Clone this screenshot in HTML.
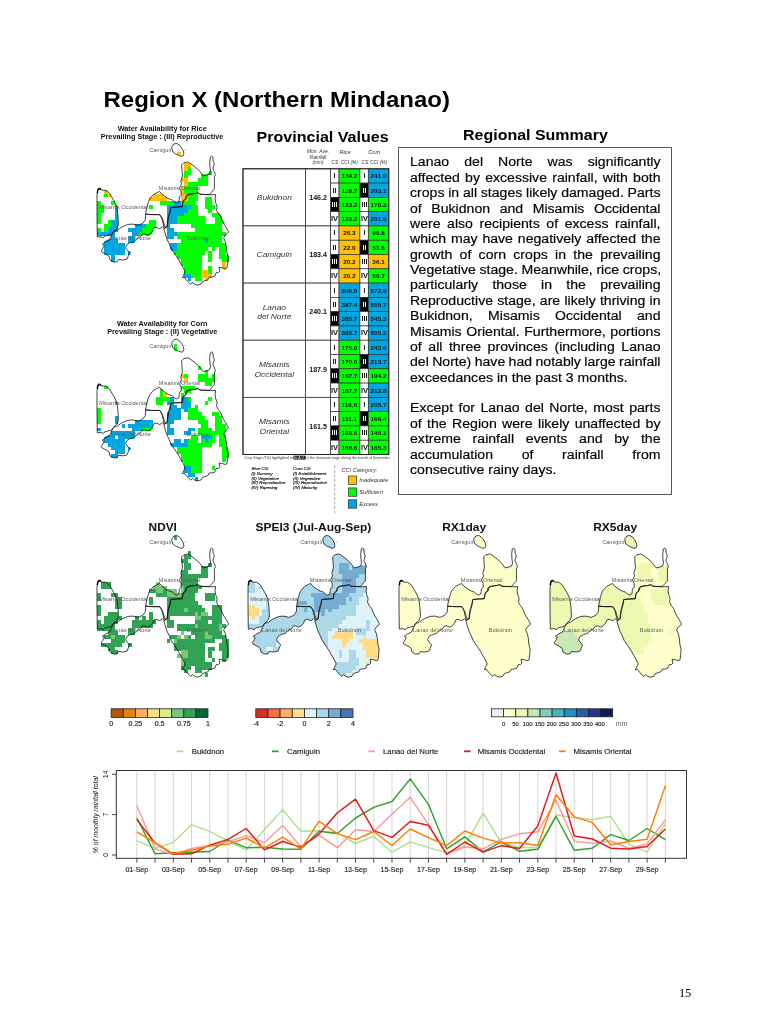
<!DOCTYPE html>
<html lang="en"><head><meta charset="utf-8"><title>Region X (Northern Mindanao)</title>
<style>
html,body{margin:0;padding:0;background:#fff;}
body{width:768px;height:1024px;position:relative;overflow:hidden;font-family:"Liberation Sans", sans-serif;color:#000;}
.t{position:absolute;white-space:nowrap;color:#000;}
p{margin:0;}
.ln{display:block;text-align:justify;text-align-last:justify;white-space:nowrap;height:15.39px;}
.ln.last{text-align:left;text-align-last:left;}
.gap{height:15.39px;}
svg{position:absolute;left:0;top:0;}
svg text{font-family:"Liberation Sans", sans-serif;}
</style></head>
<body>
<svg width="768" height="1024" viewBox="0 0 768 1024">
<text transform="translate(103.50 106.80) scale(1.0607 1)" font-size="22.63" font-weight="bold" fill="#000" >Region X (Northern Mindanao)</text>
<text transform="translate(256.60 141.70) scale(1.0607 1)" font-size="15.14" font-weight="bold" fill="#000" >Provincial Values</text>
<text transform="translate(463.00 140.20) scale(1.0607 1)" font-size="15.08" font-weight="bold" fill="#000" >Regional Summary</text>
<text transform="translate(678.90 997.30) scale(1.0607 1)" font-size="11.69" fill="#000" style="font-family:'Liberation Serif',serif">15</text>
<rect x="330.60" y="168.80" width="8.40" height="14.29" fill="#fff" stroke="#333" stroke-width="0.7"/>
<text transform="translate(334.55 178.34) scale(1.0607 1)" font-size="6.41" text-anchor="middle" font-weight="bold" textLength="1.79" lengthAdjust="spacingAndGlyphs" fill="#111" >I</text>
<rect x="359.80" y="168.80" width="8.50" height="14.29" fill="#fff" stroke="#333" stroke-width="0.7"/>
<text transform="translate(364.45 178.34) scale(1.0607 1)" font-size="6.41" text-anchor="middle" font-weight="bold" textLength="1.79" lengthAdjust="spacingAndGlyphs" fill="#111" >I</text>
<rect x="339.00" y="168.80" width="20.80" height="14.29" fill="#00ff00" stroke="#333" stroke-width="0.7"/>
<text transform="translate(349.40 178.24) scale(1.0607 1)" font-size="6.03" text-anchor="middle" font-weight="bold" fill="#111" >134.2</text>
<rect x="368.30" y="168.80" width="20.50" height="14.29" fill="#00a6e0" stroke="#333" stroke-width="0.7"/>
<text transform="translate(378.55 178.24) scale(1.0607 1)" font-size="6.03" text-anchor="middle" font-weight="bold" fill="#111" >241.0</text>
<rect x="330.60" y="183.09" width="8.40" height="14.29" fill="#fff" stroke="#333" stroke-width="0.7"/>
<text transform="translate(334.55 192.63) scale(1.0607 1)" font-size="6.41" text-anchor="middle" font-weight="bold" textLength="3.68" lengthAdjust="spacingAndGlyphs" fill="#111" >II</text>
<rect x="359.80" y="183.09" width="8.50" height="14.29" fill="#000" stroke="#333" stroke-width="0.7"/>
<text transform="translate(364.45 192.63) scale(1.0607 1)" font-size="6.41" text-anchor="middle" font-weight="bold" textLength="3.68" lengthAdjust="spacingAndGlyphs" fill="#fff" >II</text>
<rect x="339.00" y="183.09" width="20.80" height="14.29" fill="#00ff00" stroke="#333" stroke-width="0.7"/>
<text transform="translate(349.40 192.53) scale(1.0607 1)" font-size="6.03" text-anchor="middle" font-weight="bold" fill="#111" >126.7</text>
<rect x="368.30" y="183.09" width="20.50" height="14.29" fill="#00a6e0" stroke="#333" stroke-width="0.7"/>
<text transform="translate(378.55 192.53) scale(1.0607 1)" font-size="6.03" text-anchor="middle" font-weight="bold" fill="#111" >203.1</text>
<rect x="330.60" y="197.37" width="8.40" height="14.29" fill="#000" stroke="#333" stroke-width="0.7"/>
<text transform="translate(334.55 206.91) scale(1.0607 1)" font-size="6.41" text-anchor="middle" font-weight="bold" textLength="5.56" lengthAdjust="spacingAndGlyphs" fill="#fff" >III</text>
<rect x="359.80" y="197.37" width="8.50" height="14.29" fill="#fff" stroke="#333" stroke-width="0.7"/>
<text transform="translate(364.45 206.91) scale(1.0607 1)" font-size="6.41" text-anchor="middle" font-weight="bold" textLength="5.56" lengthAdjust="spacingAndGlyphs" fill="#111" >III</text>
<rect x="339.00" y="197.37" width="20.80" height="14.29" fill="#00ff00" stroke="#333" stroke-width="0.7"/>
<text transform="translate(349.40 206.81) scale(1.0607 1)" font-size="6.03" text-anchor="middle" font-weight="bold" fill="#111" >123.2</text>
<rect x="368.30" y="197.37" width="20.50" height="14.29" fill="#00ff00" stroke="#333" stroke-width="0.7"/>
<text transform="translate(378.55 206.81) scale(1.0607 1)" font-size="6.03" text-anchor="middle" font-weight="bold" fill="#111" >178.3</text>
<rect x="330.60" y="211.66" width="8.40" height="14.29" fill="#fff" stroke="#333" stroke-width="0.7"/>
<text transform="translate(334.55 221.20) scale(1.0607 1)" font-size="6.41" text-anchor="middle" font-weight="bold" textLength="6.60" lengthAdjust="spacingAndGlyphs" fill="#111" >IV</text>
<rect x="359.80" y="211.66" width="8.50" height="14.29" fill="#fff" stroke="#333" stroke-width="0.7"/>
<text transform="translate(364.45 221.20) scale(1.0607 1)" font-size="6.41" text-anchor="middle" font-weight="bold" textLength="6.60" lengthAdjust="spacingAndGlyphs" fill="#111" >IV</text>
<rect x="339.00" y="211.66" width="20.80" height="14.29" fill="#00ff00" stroke="#333" stroke-width="0.7"/>
<text transform="translate(349.40 221.10) scale(1.0607 1)" font-size="6.03" text-anchor="middle" font-weight="bold" fill="#111" >123.2</text>
<rect x="368.30" y="211.66" width="20.50" height="14.29" fill="#00a6e0" stroke="#333" stroke-width="0.7"/>
<text transform="translate(378.55 221.10) scale(1.0607 1)" font-size="6.03" text-anchor="middle" font-weight="bold" fill="#111" >201.9</text>
<rect x="243.00" y="168.80" width="62.60" height="57.14" fill="#fff" stroke="#333" stroke-width="0.8"/>
<rect x="305.60" y="168.80" width="25.00" height="57.14" fill="#fff" stroke="#333" stroke-width="0.8"/>
<text transform="translate(274.30 200.27) scale(1.0607 1)" font-size="7.92" text-anchor="middle" font-style="italic" fill="#333" >Bukidnon</text>
<text transform="translate(318.10 200.17) scale(1.0607 1)" font-size="6.69" text-anchor="middle" font-weight="bold" fill="#111" >146.2</text>
<rect x="330.60" y="225.94" width="8.40" height="14.29" fill="#fff" stroke="#333" stroke-width="0.7"/>
<text transform="translate(334.55 235.48) scale(1.0607 1)" font-size="6.41" text-anchor="middle" font-weight="bold" textLength="1.79" lengthAdjust="spacingAndGlyphs" fill="#111" >I</text>
<rect x="359.80" y="225.94" width="8.50" height="14.29" fill="#fff" stroke="#333" stroke-width="0.7"/>
<text transform="translate(364.45 235.48) scale(1.0607 1)" font-size="6.41" text-anchor="middle" font-weight="bold" textLength="1.79" lengthAdjust="spacingAndGlyphs" fill="#111" >I</text>
<rect x="339.00" y="225.94" width="20.80" height="14.29" fill="#ffc000" stroke="#333" stroke-width="0.7"/>
<text transform="translate(349.40 235.38) scale(1.0607 1)" font-size="6.03" text-anchor="middle" font-weight="bold" fill="#111" >26.3</text>
<rect x="368.30" y="225.94" width="20.50" height="14.29" fill="#00ff00" stroke="#333" stroke-width="0.7"/>
<text transform="translate(378.55 235.38) scale(1.0607 1)" font-size="6.03" text-anchor="middle" font-weight="bold" fill="#111" >90.8</text>
<rect x="330.60" y="240.22" width="8.40" height="14.29" fill="#fff" stroke="#333" stroke-width="0.7"/>
<text transform="translate(334.55 249.77) scale(1.0607 1)" font-size="6.41" text-anchor="middle" font-weight="bold" textLength="3.68" lengthAdjust="spacingAndGlyphs" fill="#111" >II</text>
<rect x="359.80" y="240.22" width="8.50" height="14.29" fill="#000" stroke="#333" stroke-width="0.7"/>
<text transform="translate(364.45 249.77) scale(1.0607 1)" font-size="6.41" text-anchor="middle" font-weight="bold" textLength="3.68" lengthAdjust="spacingAndGlyphs" fill="#fff" >II</text>
<rect x="339.00" y="240.22" width="20.80" height="14.29" fill="#ffc000" stroke="#333" stroke-width="0.7"/>
<text transform="translate(349.40 249.67) scale(1.0607 1)" font-size="6.03" text-anchor="middle" font-weight="bold" fill="#111" >22.0</text>
<rect x="368.30" y="240.22" width="20.50" height="14.29" fill="#00ff00" stroke="#333" stroke-width="0.7"/>
<text transform="translate(378.55 249.67) scale(1.0607 1)" font-size="6.03" text-anchor="middle" font-weight="bold" fill="#111" >51.6</text>
<rect x="330.60" y="254.51" width="8.40" height="14.29" fill="#000" stroke="#333" stroke-width="0.7"/>
<text transform="translate(334.55 264.05) scale(1.0607 1)" font-size="6.41" text-anchor="middle" font-weight="bold" textLength="5.56" lengthAdjust="spacingAndGlyphs" fill="#fff" >III</text>
<rect x="359.80" y="254.51" width="8.50" height="14.29" fill="#fff" stroke="#333" stroke-width="0.7"/>
<text transform="translate(364.45 264.05) scale(1.0607 1)" font-size="6.41" text-anchor="middle" font-weight="bold" textLength="5.56" lengthAdjust="spacingAndGlyphs" fill="#111" >III</text>
<rect x="339.00" y="254.51" width="20.80" height="14.29" fill="#ffc000" stroke="#333" stroke-width="0.7"/>
<text transform="translate(349.40 263.95) scale(1.0607 1)" font-size="6.03" text-anchor="middle" font-weight="bold" fill="#111" >20.2</text>
<rect x="368.30" y="254.51" width="20.50" height="14.29" fill="#ffc000" stroke="#333" stroke-width="0.7"/>
<text transform="translate(378.55 263.95) scale(1.0607 1)" font-size="6.03" text-anchor="middle" font-weight="bold" fill="#111" >36.1</text>
<rect x="330.60" y="268.80" width="8.40" height="14.29" fill="#fff" stroke="#333" stroke-width="0.7"/>
<text transform="translate(334.55 278.34) scale(1.0607 1)" font-size="6.41" text-anchor="middle" font-weight="bold" textLength="6.60" lengthAdjust="spacingAndGlyphs" fill="#111" >IV</text>
<rect x="359.80" y="268.80" width="8.50" height="14.29" fill="#fff" stroke="#333" stroke-width="0.7"/>
<text transform="translate(364.45 278.34) scale(1.0607 1)" font-size="6.41" text-anchor="middle" font-weight="bold" textLength="6.60" lengthAdjust="spacingAndGlyphs" fill="#111" >IV</text>
<rect x="339.00" y="268.80" width="20.80" height="14.29" fill="#ffc000" stroke="#333" stroke-width="0.7"/>
<text transform="translate(349.40 278.24) scale(1.0607 1)" font-size="6.03" text-anchor="middle" font-weight="bold" fill="#111" >20.2</text>
<rect x="368.30" y="268.80" width="20.50" height="14.29" fill="#00ff00" stroke="#333" stroke-width="0.7"/>
<text transform="translate(378.55 278.24) scale(1.0607 1)" font-size="6.03" text-anchor="middle" font-weight="bold" fill="#111" >50.7</text>
<rect x="243.00" y="225.94" width="62.60" height="57.14" fill="#fff" stroke="#333" stroke-width="0.8"/>
<rect x="305.60" y="225.94" width="25.00" height="57.14" fill="#fff" stroke="#333" stroke-width="0.8"/>
<text transform="translate(274.30 257.41) scale(1.0607 1)" font-size="7.92" text-anchor="middle" font-style="italic" fill="#333" >Camiguin</text>
<text transform="translate(318.10 257.31) scale(1.0607 1)" font-size="6.69" text-anchor="middle" font-weight="bold" fill="#111" >183.4</text>
<rect x="330.60" y="283.08" width="8.40" height="14.29" fill="#fff" stroke="#333" stroke-width="0.7"/>
<text transform="translate(334.55 292.62) scale(1.0607 1)" font-size="6.41" text-anchor="middle" font-weight="bold" textLength="1.79" lengthAdjust="spacingAndGlyphs" fill="#111" >I</text>
<rect x="359.80" y="283.08" width="8.50" height="14.29" fill="#fff" stroke="#333" stroke-width="0.7"/>
<text transform="translate(364.45 292.62) scale(1.0607 1)" font-size="6.41" text-anchor="middle" font-weight="bold" textLength="1.79" lengthAdjust="spacingAndGlyphs" fill="#111" >I</text>
<rect x="339.00" y="283.08" width="20.80" height="14.29" fill="#00a6e0" stroke="#333" stroke-width="0.7"/>
<text transform="translate(349.40 292.52) scale(1.0607 1)" font-size="6.03" text-anchor="middle" font-weight="bold" fill="#111" >390.9</text>
<rect x="368.30" y="283.08" width="20.50" height="14.29" fill="#00a6e0" stroke="#333" stroke-width="0.7"/>
<text transform="translate(378.55 292.52) scale(1.0607 1)" font-size="6.03" text-anchor="middle" font-weight="bold" fill="#111" >572.9</text>
<rect x="330.60" y="297.37" width="8.40" height="14.29" fill="#fff" stroke="#333" stroke-width="0.7"/>
<text transform="translate(334.55 306.91) scale(1.0607 1)" font-size="6.41" text-anchor="middle" font-weight="bold" textLength="3.68" lengthAdjust="spacingAndGlyphs" fill="#111" >II</text>
<rect x="359.80" y="297.37" width="8.50" height="14.29" fill="#000" stroke="#333" stroke-width="0.7"/>
<text transform="translate(364.45 306.91) scale(1.0607 1)" font-size="6.41" text-anchor="middle" font-weight="bold" textLength="3.68" lengthAdjust="spacingAndGlyphs" fill="#fff" >II</text>
<rect x="339.00" y="297.37" width="20.80" height="14.29" fill="#00a6e0" stroke="#333" stroke-width="0.7"/>
<text transform="translate(349.40 306.81) scale(1.0607 1)" font-size="6.03" text-anchor="middle" font-weight="bold" fill="#111" >387.4</text>
<rect x="368.30" y="297.37" width="20.50" height="14.29" fill="#00a6e0" stroke="#333" stroke-width="0.7"/>
<text transform="translate(378.55 306.81) scale(1.0607 1)" font-size="6.03" text-anchor="middle" font-weight="bold" fill="#111" >555.7</text>
<rect x="330.60" y="311.65" width="8.40" height="14.29" fill="#000" stroke="#333" stroke-width="0.7"/>
<text transform="translate(334.55 321.19) scale(1.0607 1)" font-size="6.41" text-anchor="middle" font-weight="bold" textLength="5.56" lengthAdjust="spacingAndGlyphs" fill="#fff" >III</text>
<rect x="359.80" y="311.65" width="8.50" height="14.29" fill="#fff" stroke="#333" stroke-width="0.7"/>
<text transform="translate(364.45 321.19) scale(1.0607 1)" font-size="6.41" text-anchor="middle" font-weight="bold" textLength="5.56" lengthAdjust="spacingAndGlyphs" fill="#111" >III</text>
<rect x="339.00" y="311.65" width="20.80" height="14.29" fill="#00a6e0" stroke="#333" stroke-width="0.7"/>
<text transform="translate(349.40 321.09) scale(1.0607 1)" font-size="6.03" text-anchor="middle" font-weight="bold" fill="#111" >385.7</text>
<rect x="368.30" y="311.65" width="20.50" height="14.29" fill="#00a6e0" stroke="#333" stroke-width="0.7"/>
<text transform="translate(378.55 321.09) scale(1.0607 1)" font-size="6.03" text-anchor="middle" font-weight="bold" fill="#111" >545.3</text>
<rect x="330.60" y="325.94" width="8.40" height="14.29" fill="#fff" stroke="#333" stroke-width="0.7"/>
<text transform="translate(334.55 335.48) scale(1.0607 1)" font-size="6.41" text-anchor="middle" font-weight="bold" textLength="6.60" lengthAdjust="spacingAndGlyphs" fill="#111" >IV</text>
<rect x="359.80" y="325.94" width="8.50" height="14.29" fill="#fff" stroke="#333" stroke-width="0.7"/>
<text transform="translate(364.45 335.48) scale(1.0607 1)" font-size="6.41" text-anchor="middle" font-weight="bold" textLength="6.60" lengthAdjust="spacingAndGlyphs" fill="#111" >IV</text>
<rect x="339.00" y="325.94" width="20.80" height="14.29" fill="#00a6e0" stroke="#333" stroke-width="0.7"/>
<text transform="translate(349.40 335.38) scale(1.0607 1)" font-size="6.03" text-anchor="middle" font-weight="bold" fill="#111" >385.7</text>
<rect x="368.30" y="325.94" width="20.50" height="14.29" fill="#00a6e0" stroke="#333" stroke-width="0.7"/>
<text transform="translate(378.55 335.38) scale(1.0607 1)" font-size="6.03" text-anchor="middle" font-weight="bold" fill="#111" >555.2</text>
<rect x="243.00" y="283.08" width="62.60" height="57.14" fill="#fff" stroke="#333" stroke-width="0.8"/>
<rect x="305.60" y="283.08" width="25.00" height="57.14" fill="#fff" stroke="#333" stroke-width="0.8"/>
<text transform="translate(274.30 309.65) scale(1.0607 1)" font-size="7.92" text-anchor="middle" font-style="italic" fill="#333" >Lanao</text>
<text transform="translate(274.30 319.45) scale(1.0607 1)" font-size="7.92" text-anchor="middle" font-style="italic" fill="#333" >del Norte</text>
<text transform="translate(318.10 314.45) scale(1.0607 1)" font-size="6.69" text-anchor="middle" font-weight="bold" fill="#111" >240.1</text>
<rect x="330.60" y="340.22" width="8.40" height="14.29" fill="#fff" stroke="#333" stroke-width="0.7"/>
<text transform="translate(334.55 349.76) scale(1.0607 1)" font-size="6.41" text-anchor="middle" font-weight="bold" textLength="1.79" lengthAdjust="spacingAndGlyphs" fill="#111" >I</text>
<rect x="359.80" y="340.22" width="8.50" height="14.29" fill="#fff" stroke="#333" stroke-width="0.7"/>
<text transform="translate(364.45 349.76) scale(1.0607 1)" font-size="6.41" text-anchor="middle" font-weight="bold" textLength="1.79" lengthAdjust="spacingAndGlyphs" fill="#111" >I</text>
<rect x="339.00" y="340.22" width="20.80" height="14.29" fill="#00ff00" stroke="#333" stroke-width="0.7"/>
<text transform="translate(349.40 349.66) scale(1.0607 1)" font-size="6.03" text-anchor="middle" font-weight="bold" fill="#111" >175.0</text>
<rect x="368.30" y="340.22" width="20.50" height="14.29" fill="#00a6e0" stroke="#333" stroke-width="0.7"/>
<text transform="translate(378.55 349.66) scale(1.0607 1)" font-size="6.03" text-anchor="middle" font-weight="bold" fill="#111" >243.6</text>
<rect x="330.60" y="354.51" width="8.40" height="14.29" fill="#fff" stroke="#333" stroke-width="0.7"/>
<text transform="translate(334.55 364.05) scale(1.0607 1)" font-size="6.41" text-anchor="middle" font-weight="bold" textLength="3.68" lengthAdjust="spacingAndGlyphs" fill="#111" >II</text>
<rect x="359.80" y="354.51" width="8.50" height="14.29" fill="#000" stroke="#333" stroke-width="0.7"/>
<text transform="translate(364.45 364.05) scale(1.0607 1)" font-size="6.41" text-anchor="middle" font-weight="bold" textLength="3.68" lengthAdjust="spacingAndGlyphs" fill="#fff" >II</text>
<rect x="339.00" y="354.51" width="20.80" height="14.29" fill="#00ff00" stroke="#333" stroke-width="0.7"/>
<text transform="translate(349.40 363.95) scale(1.0607 1)" font-size="6.03" text-anchor="middle" font-weight="bold" fill="#111" >170.0</text>
<rect x="368.30" y="354.51" width="20.50" height="14.29" fill="#00a6e0" stroke="#333" stroke-width="0.7"/>
<text transform="translate(378.55 363.95) scale(1.0607 1)" font-size="6.03" text-anchor="middle" font-weight="bold" fill="#111" >213.7</text>
<rect x="330.60" y="368.79" width="8.40" height="14.29" fill="#000" stroke="#333" stroke-width="0.7"/>
<text transform="translate(334.55 378.33) scale(1.0607 1)" font-size="6.41" text-anchor="middle" font-weight="bold" textLength="5.56" lengthAdjust="spacingAndGlyphs" fill="#fff" >III</text>
<rect x="359.80" y="368.79" width="8.50" height="14.29" fill="#fff" stroke="#333" stroke-width="0.7"/>
<text transform="translate(364.45 378.33) scale(1.0607 1)" font-size="6.41" text-anchor="middle" font-weight="bold" textLength="5.56" lengthAdjust="spacingAndGlyphs" fill="#111" >III</text>
<rect x="339.00" y="368.79" width="20.80" height="14.29" fill="#00ff00" stroke="#333" stroke-width="0.7"/>
<text transform="translate(349.40 378.23) scale(1.0607 1)" font-size="6.03" text-anchor="middle" font-weight="bold" fill="#111" >167.7</text>
<rect x="368.30" y="368.79" width="20.50" height="14.29" fill="#00ff00" stroke="#333" stroke-width="0.7"/>
<text transform="translate(378.55 378.23) scale(1.0607 1)" font-size="6.03" text-anchor="middle" font-weight="bold" fill="#111" >194.2</text>
<rect x="330.60" y="383.08" width="8.40" height="14.29" fill="#fff" stroke="#333" stroke-width="0.7"/>
<text transform="translate(334.55 392.62) scale(1.0607 1)" font-size="6.41" text-anchor="middle" font-weight="bold" textLength="6.60" lengthAdjust="spacingAndGlyphs" fill="#111" >IV</text>
<rect x="359.80" y="383.08" width="8.50" height="14.29" fill="#fff" stroke="#333" stroke-width="0.7"/>
<text transform="translate(364.45 392.62) scale(1.0607 1)" font-size="6.41" text-anchor="middle" font-weight="bold" textLength="6.60" lengthAdjust="spacingAndGlyphs" fill="#111" >IV</text>
<rect x="339.00" y="383.08" width="20.80" height="14.29" fill="#00ff00" stroke="#333" stroke-width="0.7"/>
<text transform="translate(349.40 392.52) scale(1.0607 1)" font-size="6.03" text-anchor="middle" font-weight="bold" fill="#111" >167.7</text>
<rect x="368.30" y="383.08" width="20.50" height="14.29" fill="#00a6e0" stroke="#333" stroke-width="0.7"/>
<text transform="translate(378.55 392.52) scale(1.0607 1)" font-size="6.03" text-anchor="middle" font-weight="bold" fill="#111" >212.8</text>
<rect x="243.00" y="340.22" width="62.60" height="57.14" fill="#fff" stroke="#333" stroke-width="0.8"/>
<rect x="305.60" y="340.22" width="25.00" height="57.14" fill="#fff" stroke="#333" stroke-width="0.8"/>
<text transform="translate(274.30 366.79) scale(1.0607 1)" font-size="7.92" text-anchor="middle" font-style="italic" fill="#333" >Misamis</text>
<text transform="translate(274.30 376.59) scale(1.0607 1)" font-size="7.92" text-anchor="middle" font-style="italic" fill="#333" >Occidental</text>
<text transform="translate(318.10 371.59) scale(1.0607 1)" font-size="6.69" text-anchor="middle" font-weight="bold" fill="#111" >187.9</text>
<rect x="330.60" y="397.36" width="8.40" height="14.29" fill="#fff" stroke="#333" stroke-width="0.7"/>
<text transform="translate(334.55 406.90) scale(1.0607 1)" font-size="6.41" text-anchor="middle" font-weight="bold" textLength="1.79" lengthAdjust="spacingAndGlyphs" fill="#111" >I</text>
<rect x="359.80" y="397.36" width="8.50" height="14.29" fill="#fff" stroke="#333" stroke-width="0.7"/>
<text transform="translate(364.45 406.90) scale(1.0607 1)" font-size="6.41" text-anchor="middle" font-weight="bold" textLength="1.79" lengthAdjust="spacingAndGlyphs" fill="#111" >I</text>
<rect x="339.00" y="397.36" width="20.80" height="14.29" fill="#00ff00" stroke="#333" stroke-width="0.7"/>
<text transform="translate(349.40 406.80) scale(1.0607 1)" font-size="6.03" text-anchor="middle" font-weight="bold" fill="#111" >116.6</text>
<rect x="368.30" y="397.36" width="20.50" height="14.29" fill="#00a6e0" stroke="#333" stroke-width="0.7"/>
<text transform="translate(378.55 406.80) scale(1.0607 1)" font-size="6.03" text-anchor="middle" font-weight="bold" fill="#111" >205.7</text>
<rect x="330.60" y="411.65" width="8.40" height="14.29" fill="#fff" stroke="#333" stroke-width="0.7"/>
<text transform="translate(334.55 421.19) scale(1.0607 1)" font-size="6.41" text-anchor="middle" font-weight="bold" textLength="3.68" lengthAdjust="spacingAndGlyphs" fill="#111" >II</text>
<rect x="359.80" y="411.65" width="8.50" height="14.29" fill="#000" stroke="#333" stroke-width="0.7"/>
<text transform="translate(364.45 421.19) scale(1.0607 1)" font-size="6.41" text-anchor="middle" font-weight="bold" textLength="3.68" lengthAdjust="spacingAndGlyphs" fill="#fff" >II</text>
<rect x="339.00" y="411.65" width="20.80" height="14.29" fill="#00ff00" stroke="#333" stroke-width="0.7"/>
<text transform="translate(349.40 421.09) scale(1.0607 1)" font-size="6.03" text-anchor="middle" font-weight="bold" fill="#111" >111.1</text>
<rect x="368.30" y="411.65" width="20.50" height="14.29" fill="#00ff00" stroke="#333" stroke-width="0.7"/>
<text transform="translate(378.55 421.09) scale(1.0607 1)" font-size="6.03" text-anchor="middle" font-weight="bold" fill="#111" >166.4</text>
<rect x="330.60" y="425.93" width="8.40" height="14.29" fill="#000" stroke="#333" stroke-width="0.7"/>
<text transform="translate(334.55 435.47) scale(1.0607 1)" font-size="6.41" text-anchor="middle" font-weight="bold" textLength="5.56" lengthAdjust="spacingAndGlyphs" fill="#fff" >III</text>
<rect x="359.80" y="425.93" width="8.50" height="14.29" fill="#fff" stroke="#333" stroke-width="0.7"/>
<text transform="translate(364.45 435.47) scale(1.0607 1)" font-size="6.41" text-anchor="middle" font-weight="bold" textLength="5.56" lengthAdjust="spacingAndGlyphs" fill="#111" >III</text>
<rect x="339.00" y="425.93" width="20.80" height="14.29" fill="#00ff00" stroke="#333" stroke-width="0.7"/>
<text transform="translate(349.40 435.37) scale(1.0607 1)" font-size="6.03" text-anchor="middle" font-weight="bold" fill="#111" >108.6</text>
<rect x="368.30" y="425.93" width="20.50" height="14.29" fill="#00ff00" stroke="#333" stroke-width="0.7"/>
<text transform="translate(378.55 435.37) scale(1.0607 1)" font-size="6.03" text-anchor="middle" font-weight="bold" fill="#111" >145.1</text>
<rect x="330.60" y="440.22" width="8.40" height="14.29" fill="#fff" stroke="#333" stroke-width="0.7"/>
<text transform="translate(334.55 449.76) scale(1.0607 1)" font-size="6.41" text-anchor="middle" font-weight="bold" textLength="6.60" lengthAdjust="spacingAndGlyphs" fill="#111" >IV</text>
<rect x="359.80" y="440.22" width="8.50" height="14.29" fill="#fff" stroke="#333" stroke-width="0.7"/>
<text transform="translate(364.45 449.76) scale(1.0607 1)" font-size="6.41" text-anchor="middle" font-weight="bold" textLength="6.60" lengthAdjust="spacingAndGlyphs" fill="#111" >IV</text>
<rect x="339.00" y="440.22" width="20.80" height="14.29" fill="#00ff00" stroke="#333" stroke-width="0.7"/>
<text transform="translate(349.40 449.66) scale(1.0607 1)" font-size="6.03" text-anchor="middle" font-weight="bold" fill="#111" >108.6</text>
<rect x="368.30" y="440.22" width="20.50" height="14.29" fill="#00ff00" stroke="#333" stroke-width="0.7"/>
<text transform="translate(378.55 449.66) scale(1.0607 1)" font-size="6.03" text-anchor="middle" font-weight="bold" fill="#111" >165.3</text>
<rect x="243.00" y="397.36" width="62.60" height="57.14" fill="#fff" stroke="#333" stroke-width="0.8"/>
<rect x="305.60" y="397.36" width="25.00" height="57.14" fill="#fff" stroke="#333" stroke-width="0.8"/>
<text transform="translate(274.30 423.93) scale(1.0607 1)" font-size="7.92" text-anchor="middle" font-style="italic" fill="#333" >Misamis</text>
<text transform="translate(274.30 433.73) scale(1.0607 1)" font-size="7.92" text-anchor="middle" font-style="italic" fill="#333" >Oriental</text>
<text transform="translate(318.10 428.73) scale(1.0607 1)" font-size="6.69" text-anchor="middle" font-weight="bold" fill="#111" >161.5</text>
<rect x="243.00" y="168.80" width="145.80" height="285.70" fill="none" stroke="#222" stroke-width="1"/>
<text transform="translate(318.00 153.30) scale(1.0607 1)" font-size="4.71" text-anchor="middle" font-style="italic" fill="#333" >Mon. Ave.</text>
<text transform="translate(318.00 158.60) scale(1.0607 1)" font-size="4.62" text-anchor="middle" font-style="italic" fill="#333" >Rainfall</text>
<text transform="translate(318.00 163.90) scale(1.0607 1)" font-size="4.53" text-anchor="middle" font-style="italic" fill="#333" >(mm)</text>
<text transform="translate(345.00 153.60) scale(1.0607 1)" font-size="5.28" text-anchor="middle" font-style="italic" fill="#333" >Rice</text>
<text transform="translate(374.30 153.60) scale(1.0607 1)" font-size="5.28" text-anchor="middle" font-style="italic" fill="#333" >Corn</text>
<text transform="translate(334.80 163.90) scale(1.0607 1)" font-size="4.53" text-anchor="middle" font-style="italic" fill="#333" >CS</text>
<text transform="translate(349.40 163.90) scale(1.0607 1)" font-size="4.53" text-anchor="middle" font-style="italic" fill="#333" >CCI (%)</text>
<text transform="translate(364.80 163.90) scale(1.0607 1)" font-size="4.53" text-anchor="middle" font-style="italic" fill="#333" >CS</text>
<text transform="translate(378.60 163.90) scale(1.0607 1)" font-size="4.53" text-anchor="middle" font-style="italic" fill="#333" >CCI (%)</text>
<rect x="293.5" y="455.7" width="12.1" height="3.8" fill="#000"/>
<text transform="translate(244.60 458.90) scale(1.0607 1)" font-size="3.35" font-style="italic" textLength="45.44" lengthAdjust="spacingAndGlyphs" fill="#333" >Crop Stage (CS) highlighted in</text>
<text transform="translate(299.50 458.80) scale(1.0607 1)" font-size="3.02" text-anchor="middle" font-style="italic" fill="#fff" >BLACK</text>
<text transform="translate(306.60 458.90) scale(1.0607 1)" font-size="3.35" font-style="italic" textLength="78.63" lengthAdjust="spacingAndGlyphs" fill="#333" >is the dominant stage during the month of September</text>
<text transform="translate(251.40 469.80) scale(1.0607 1)" font-size="4.20" font-style="italic" fill="#111" stroke="#111" stroke-width="0.14" >Rice CS:</text>
<text transform="translate(251.40 474.68) scale(1.0607 1)" font-size="4.20" font-style="italic" fill="#111" stroke="#111" stroke-width="0.14" >(I) Nursery</text>
<text transform="translate(251.40 479.56) scale(1.0607 1)" font-size="4.20" font-style="italic" fill="#111" stroke="#111" stroke-width="0.14" >(II) Vegetative</text>
<text transform="translate(251.40 484.44) scale(1.0607 1)" font-size="4.20" font-style="italic" fill="#111" stroke="#111" stroke-width="0.14" >(III) Reproductive</text>
<text transform="translate(251.40 489.32) scale(1.0607 1)" font-size="4.20" font-style="italic" fill="#111" stroke="#111" stroke-width="0.14" >(IV) Ripening</text>
<text transform="translate(293.00 469.80) scale(1.0607 1)" font-size="4.20" font-style="italic" fill="#111" stroke="#111" stroke-width="0.14" >Corn CS:</text>
<text transform="translate(293.00 474.68) scale(1.0607 1)" font-size="4.20" font-style="italic" fill="#111" stroke="#111" stroke-width="0.14" >(I) Establishment</text>
<text transform="translate(293.00 479.56) scale(1.0607 1)" font-size="4.20" font-style="italic" fill="#111" stroke="#111" stroke-width="0.14" >(II) Vegetative</text>
<text transform="translate(293.00 484.44) scale(1.0607 1)" font-size="4.20" font-style="italic" fill="#111" stroke="#111" stroke-width="0.14" >(III) Reproductive</text>
<text transform="translate(293.00 489.32) scale(1.0607 1)" font-size="4.20" font-style="italic" fill="#111" stroke="#111" stroke-width="0.14" >(IV) Maturity</text>
<line x1="334.8" y1="465.5" x2="334.8" y2="513" stroke="#777" stroke-width="0.6" stroke-dasharray="3 1.5"/>
<text transform="translate(341.40 471.80) scale(1.0607 1)" font-size="5.37" font-style="italic" fill="#444" >CCI Category:</text>
<rect x="348.3" y="476.00" width="8.4" height="8.4" fill="#ffc000" stroke="#333" stroke-width="0.7"/>
<text transform="translate(359.20 482.20) scale(1.0607 1)" font-size="5.47" font-style="italic" fill="#333" >Inadequate</text>
<rect x="348.3" y="487.90" width="8.4" height="8.4" fill="#00ff00" stroke="#333" stroke-width="0.7"/>
<text transform="translate(359.20 494.10) scale(1.0607 1)" font-size="5.47" font-style="italic" fill="#333" >Sufficient</text>
<rect x="348.3" y="499.80" width="8.4" height="8.4" fill="#00a6e0" stroke="#333" stroke-width="0.7"/>
<text transform="translate(359.20 506.00) scale(1.0607 1)" font-size="5.47" font-style="italic" fill="#333" >Excess</text>
<text transform="translate(162.20 130.78) scale(1.0607 1)" font-size="6.88" text-anchor="middle" font-weight="bold" fill="#111" >Water Availability for Rice</text>
<text transform="translate(162.00 139.18) scale(1.0607 1)" font-size="6.88" text-anchor="middle" font-weight="bold" fill="#111" >Prevailing Stage : (III) Reproductive</text>
<text transform="translate(162.20 326.18) scale(1.0607 1)" font-size="6.88" text-anchor="middle" font-weight="bold" fill="#111" >Water Availability for Corn</text>
<text transform="translate(162.20 334.38) scale(1.0607 1)" font-size="6.88" text-anchor="middle" font-weight="bold" fill="#111" >Prevailing Stage : (II) Vegetative</text>
<text transform="translate(162.70 530.80) scale(1.0607 1)" font-size="11.12" text-anchor="middle" font-weight="bold" fill="#111" >NDVI</text>
<text transform="translate(313.40 530.87) scale(1.0607 1)" font-size="11.31" text-anchor="middle" font-weight="bold" fill="#111" >SPEI3 (Jul-Aug-Sep)</text>
<text transform="translate(464.20 530.87) scale(1.0607 1)" font-size="11.31" text-anchor="middle" font-weight="bold" fill="#111" >RX1day</text>
<text transform="translate(615.20 530.87) scale(1.0607 1)" font-size="11.31" text-anchor="middle" font-weight="bold" fill="#111" >RX5day</text>
<defs>
<clipPath id="land"><path d="M399.3 583.7L399.8 581.2L401.0 580.1L402.2 580.2L403.7 582.2L407.6 582.2L411.5 585.1L414.0 589.5L416.9 594.4L418.9 599.3L419.8 606.1L420.3 612.0L420.3 616.9L418.9 620.3L415.4 623.7L413.0 626.6L410.1 627.1L406.6 628.1L405.2 629.8L403.2 628.6L399.3 629.1L399.0 609.1L399.0 587.6ZM415.4 623.7L419.3 622.2L424.2 618.8L430.1 616.4L435.0 616.1L439.9 617.4L444.7 615.4L447.2 612.0L447.7 608.1L447.5 606.1L452.6 606.6L461.8 606.6L463.8 610.0L465.2 615.9L466.2 619.8L467.0 620.8L464.3 618.8L461.8 620.8L458.4 619.3L456.0 619.8L454.5 623.2L452.1 626.1L449.6 627.1L446.7 625.9L444.2 626.1L442.8 628.6L437.9 631.5L436.4 633.5L432.5 634.5L429.1 636.4L427.6 639.8L429.6 642.8L431.6 644.7L430.6 647.1L429.1 651.0L425.2 652.0L420.3 651.5L418.9 654.0L415.4 654.0L412.0 652.0L411.0 648.1L408.1 646.2L404.2 644.2L403.2 642.8L405.2 639.8L406.2 637.4L404.2 636.4L407.6 634.0L411.5 632.0L413.0 628.6ZM473.9 538.8L475.9 536.0L478.8 535.4L481.7 537.3L483.7 539.8L485.2 542.7L485.9 545.6L485.0 547.8L483.2 548.4L480.8 547.4L477.8 546.1L475.2 544.2L473.9 541.2ZM483.7 556.9L485.6 554.9L490.0 553.9L493.0 555.9L496.9 558.8L500.8 562.2L503.2 565.2L505.2 567.9L508.6 567.1L511.5 566.1L512.5 563.2L512.0 559.3L511.7 554.4L512.3 549.0L513.7 548.1L514.9 549.0L515.2 553.4L516.4 555.9L515.2 559.3L514.9 561.2L516.4 563.7L517.4 566.6L516.4 569.1L516.4 574.0L516.4 580.8L514.9 582.7L513.0 584.5L511.7 586.4L504.7 586.4L501.8 585.9L499.8 584.7L496.9 585.5L492.0 585.9L489.1 586.8L487.6 588.6L487.6 591.0L485.2 592.5L484.7 594.9L484.2 598.9L479.3 599.1L472.9 599.5L472.0 603.2L470.5 608.1L469.5 613.0L469.0 617.9L468.1 619.4L467.1 618.9L466.1 615.9L464.6 611.0L461.7 606.7L455.9 606.7L447.6 606.2L447.9 604.2L449.0 598.4L450.0 595.4L450.5 593.5L451.9 590.5L455.4 586.6L459.3 584.5L461.7 583.5L463.7 586.1L467.1 588.6L470.0 590.5L474.4 592.0L476.4 594.0L478.3 595.2L480.8 594.0L481.2 591.5L481.4 589.1L483.2 587.1L483.2 583.7L481.7 580.8L482.2 578.3L483.7 575.9L482.7 573.5L483.7 571.0L484.4 567.1L484.0 562.2ZM517.6 586.6L517.1 590.7L517.6 594.6L519.1 598.1L518.6 602.5L520.5 605.9L522.5 608.3L524.0 612.2L525.9 616.1L527.9 619.1L529.8 622.5L530.5 624.4L527.9 626.4L525.6 629.8L527.4 633.7L528.4 638.6L528.9 644.5L530.1 649.3L529.8 654.2L528.9 660.1L527.4 660.6L523.5 659.6L521.0 659.3L522.0 663.0L520.5 664.5L518.1 664.8L516.6 668.4L513.7 669.1L511.3 669.1L509.8 671.8L506.9 672.8L504.4 673.5L503.0 676.2L499.1 677.2L496.6 676.2L494.7 674.7L492.7 676.2L490.3 674.2L488.3 671.8L486.4 669.4L484.4 669.8L485.9 666.4L487.3 664.0L484.9 659.1L482.5 655.2L480.5 651.3L476.6 645.4L473.2 640.5L471.2 635.7L468.8 630.8L467.3 625.9L465.9 621.0L466.8 619.8L469.3 619.1L469.8 614.2L470.7 609.3L472.2 604.4L472.7 599.5L478.6 598.8L484.4 598.5L484.9 594.6L486.4 592.2L488.3 590.7L488.8 587.8L491.2 586.4L496.1 585.7L500.0 584.7L502.0 586.4L506.9 586.6L512.2 586.8Z"/></clipPath>
<mask id="landm" maskUnits="userSpaceOnUse" x="390" y="525" width="150" height="160"><path d="M399.3 583.7L399.8 581.2L401.0 580.1L402.2 580.2L403.7 582.2L407.6 582.2L411.5 585.1L414.0 589.5L416.9 594.4L418.9 599.3L419.8 606.1L420.3 612.0L420.3 616.9L418.9 620.3L415.4 623.7L413.0 626.6L410.1 627.1L406.6 628.1L405.2 629.8L403.2 628.6L399.3 629.1L399.0 609.1L399.0 587.6ZM415.4 623.7L419.3 622.2L424.2 618.8L430.1 616.4L435.0 616.1L439.9 617.4L444.7 615.4L447.2 612.0L447.7 608.1L447.5 606.1L452.6 606.6L461.8 606.6L463.8 610.0L465.2 615.9L466.2 619.8L467.0 620.8L464.3 618.8L461.8 620.8L458.4 619.3L456.0 619.8L454.5 623.2L452.1 626.1L449.6 627.1L446.7 625.9L444.2 626.1L442.8 628.6L437.9 631.5L436.4 633.5L432.5 634.5L429.1 636.4L427.6 639.8L429.6 642.8L431.6 644.7L430.6 647.1L429.1 651.0L425.2 652.0L420.3 651.5L418.9 654.0L415.4 654.0L412.0 652.0L411.0 648.1L408.1 646.2L404.2 644.2L403.2 642.8L405.2 639.8L406.2 637.4L404.2 636.4L407.6 634.0L411.5 632.0L413.0 628.6ZM473.9 538.8L475.9 536.0L478.8 535.4L481.7 537.3L483.7 539.8L485.2 542.7L485.9 545.6L485.0 547.8L483.2 548.4L480.8 547.4L477.8 546.1L475.2 544.2L473.9 541.2ZM483.7 556.9L485.6 554.9L490.0 553.9L493.0 555.9L496.9 558.8L500.8 562.2L503.2 565.2L505.2 567.9L508.6 567.1L511.5 566.1L512.5 563.2L512.0 559.3L511.7 554.4L512.3 549.0L513.7 548.1L514.9 549.0L515.2 553.4L516.4 555.9L515.2 559.3L514.9 561.2L516.4 563.7L517.4 566.6L516.4 569.1L516.4 574.0L516.4 580.8L514.9 582.7L513.0 584.5L511.7 586.4L504.7 586.4L501.8 585.9L499.8 584.7L496.9 585.5L492.0 585.9L489.1 586.8L487.6 588.6L487.6 591.0L485.2 592.5L484.7 594.9L484.2 598.9L479.3 599.1L472.9 599.5L472.0 603.2L470.5 608.1L469.5 613.0L469.0 617.9L468.1 619.4L467.1 618.9L466.1 615.9L464.6 611.0L461.7 606.7L455.9 606.7L447.6 606.2L447.9 604.2L449.0 598.4L450.0 595.4L450.5 593.5L451.9 590.5L455.4 586.6L459.3 584.5L461.7 583.5L463.7 586.1L467.1 588.6L470.0 590.5L474.4 592.0L476.4 594.0L478.3 595.2L480.8 594.0L481.2 591.5L481.4 589.1L483.2 587.1L483.2 583.7L481.7 580.8L482.2 578.3L483.7 575.9L482.7 573.5L483.7 571.0L484.4 567.1L484.0 562.2ZM517.6 586.6L517.1 590.7L517.6 594.6L519.1 598.1L518.6 602.5L520.5 605.9L522.5 608.3L524.0 612.2L525.9 616.1L527.9 619.1L529.8 622.5L530.5 624.4L527.9 626.4L525.6 629.8L527.4 633.7L528.4 638.6L528.9 644.5L530.1 649.3L529.8 654.2L528.9 660.1L527.4 660.6L523.5 659.6L521.0 659.3L522.0 663.0L520.5 664.5L518.1 664.8L516.6 668.4L513.7 669.1L511.3 669.1L509.8 671.8L506.9 672.8L504.4 673.5L503.0 676.2L499.1 677.2L496.6 676.2L494.7 674.7L492.7 676.2L490.3 674.2L488.3 671.8L486.4 669.4L484.4 669.8L485.9 666.4L487.3 664.0L484.9 659.1L482.5 655.2L480.5 651.3L476.6 645.4L473.2 640.5L471.2 635.7L468.8 630.8L467.3 625.9L465.9 621.0L466.8 619.8L469.3 619.1L469.8 614.2L470.7 609.3L472.2 604.4L472.7 599.5L478.6 598.8L484.4 598.5L484.9 594.6L486.4 592.2L488.3 590.7L488.8 587.8L491.2 586.4L496.1 585.7L500.0 584.7L502.0 586.4L506.9 586.6L512.2 586.8Z" fill="#fff" stroke="#fff" stroke-width="2.4" stroke-linejoin="round"/></mask>
</defs>
<g transform="translate(-302,-392)">
<g mask="url(#landm)" shape-rendering="crispEdges">
<rect x="479.12" y="543.58" width="3.52" height="3.87" fill="#ffc000"/>
<rect x="486.07" y="555.03" width="7.00" height="3.87" fill="#ffc000"/>
<rect x="486.07" y="558.85" width="3.52" height="3.87" fill="#ffc000"/>
<rect x="489.55" y="558.85" width="3.52" height="3.87" fill="#00ff00"/>
<rect x="486.07" y="562.66" width="7.00" height="3.87" fill="#00ff00"/>
<rect x="510.40" y="562.66" width="3.52" height="3.87" fill="#00ff00"/>
<rect x="486.07" y="566.48" width="3.52" height="3.87" fill="#00ff00"/>
<rect x="503.45" y="566.48" width="7.00" height="3.87" fill="#00ff00"/>
<rect x="482.60" y="570.30" width="7.00" height="3.87" fill="#ffc000"/>
<rect x="499.97" y="570.30" width="10.48" height="3.87" fill="#00ff00"/>
<rect x="486.07" y="574.12" width="3.52" height="3.87" fill="#ffc000"/>
<rect x="489.55" y="574.12" width="20.90" height="3.87" fill="#00ff00"/>
<rect x="482.60" y="577.93" width="3.52" height="3.87" fill="#ffc000"/>
<rect x="486.07" y="577.93" width="13.95" height="3.87" fill="#00ff00"/>
<rect x="482.60" y="581.75" width="3.52" height="3.87" fill="#ffc000"/>
<rect x="486.07" y="581.75" width="13.95" height="3.87" fill="#00ff00"/>
<rect x="406.15" y="581.75" width="3.52" height="3.87" fill="#ffc000"/>
<rect x="482.60" y="585.57" width="7.00" height="3.87" fill="#ffc000"/>
<rect x="489.55" y="585.57" width="10.48" height="3.87" fill="#00ff00"/>
<rect x="406.15" y="585.57" width="3.52" height="3.87" fill="#00ff00"/>
<rect x="409.62" y="585.57" width="3.52" height="3.87" fill="#ffc000"/>
<rect x="454.80" y="585.57" width="10.48" height="3.87" fill="#ffc000"/>
<rect x="482.60" y="589.38" width="7.00" height="3.87" fill="#ffc000"/>
<rect x="489.55" y="589.38" width="10.48" height="3.87" fill="#00ff00"/>
<rect x="506.93" y="589.38" width="7.00" height="3.87" fill="#00ff00"/>
<rect x="451.32" y="589.38" width="17.43" height="3.87" fill="#ffc000"/>
<rect x="461.75" y="593.20" width="13.95" height="3.87" fill="#00ff00"/>
<rect x="475.65" y="593.20" width="7.00" height="3.87" fill="#00a6e0"/>
<rect x="482.60" y="593.20" width="13.95" height="3.87" fill="#00ff00"/>
<rect x="506.93" y="593.20" width="7.00" height="3.87" fill="#00ff00"/>
<rect x="399.20" y="593.20" width="3.52" height="3.87" fill="#00ff00"/>
<rect x="413.10" y="593.20" width="3.52" height="3.87" fill="#00ff00"/>
<rect x="468.70" y="597.02" width="24.38" height="3.87" fill="#00a6e0"/>
<rect x="493.02" y="597.02" width="7.00" height="3.87" fill="#00ff00"/>
<rect x="506.93" y="597.02" width="10.48" height="3.87" fill="#00ff00"/>
<rect x="451.32" y="597.02" width="3.52" height="3.87" fill="#00ff00"/>
<rect x="399.20" y="597.02" width="7.00" height="3.87" fill="#00ff00"/>
<rect x="416.57" y="597.02" width="3.52" height="3.87" fill="#00a6e0"/>
<rect x="468.70" y="600.83" width="20.90" height="3.87" fill="#00a6e0"/>
<rect x="489.55" y="600.83" width="10.48" height="3.87" fill="#00ff00"/>
<rect x="510.40" y="600.83" width="3.52" height="3.87" fill="#00ff00"/>
<rect x="399.20" y="600.83" width="7.00" height="3.87" fill="#00ff00"/>
<rect x="416.57" y="600.83" width="3.52" height="3.87" fill="#00a6e0"/>
<rect x="468.70" y="604.65" width="17.43" height="3.87" fill="#00a6e0"/>
<rect x="486.07" y="604.65" width="13.95" height="3.87" fill="#00ff00"/>
<rect x="513.88" y="604.65" width="10.48" height="3.87" fill="#00ff00"/>
<rect x="399.20" y="604.65" width="3.52" height="3.87" fill="#00ff00"/>
<rect x="416.57" y="604.65" width="3.52" height="3.87" fill="#00a6e0"/>
<rect x="468.70" y="608.47" width="10.48" height="3.87" fill="#00a6e0"/>
<rect x="479.12" y="608.47" width="27.85" height="3.87" fill="#00ff00"/>
<rect x="517.35" y="608.47" width="7.00" height="3.87" fill="#00ff00"/>
<rect x="399.20" y="608.47" width="3.52" height="3.87" fill="#00ff00"/>
<rect x="416.57" y="608.47" width="3.52" height="3.87" fill="#00a6e0"/>
<rect x="468.70" y="612.29" width="10.48" height="3.87" fill="#00a6e0"/>
<rect x="479.12" y="612.29" width="27.85" height="3.87" fill="#00ff00"/>
<rect x="517.35" y="612.29" width="10.48" height="3.87" fill="#00ff00"/>
<rect x="399.20" y="612.29" width="3.52" height="3.87" fill="#00ff00"/>
<rect x="409.62" y="612.29" width="3.52" height="3.87" fill="#00ff00"/>
<rect x="413.10" y="612.29" width="7.00" height="3.87" fill="#00a6e0"/>
<rect x="451.32" y="612.29" width="7.00" height="3.87" fill="#00ff00"/>
<rect x="468.70" y="616.10" width="3.52" height="3.87" fill="#00a6e0"/>
<rect x="493.02" y="616.10" width="31.33" height="3.87" fill="#00ff00"/>
<rect x="406.15" y="616.10" width="7.00" height="3.87" fill="#00ff00"/>
<rect x="413.10" y="616.10" width="7.00" height="3.87" fill="#00a6e0"/>
<rect x="437.43" y="616.10" width="10.48" height="3.87" fill="#00a6e0"/>
<rect x="447.85" y="616.10" width="10.48" height="3.87" fill="#00ff00"/>
<rect x="468.70" y="619.92" width="7.00" height="3.87" fill="#00a6e0"/>
<rect x="496.50" y="619.92" width="27.85" height="3.87" fill="#00ff00"/>
<rect x="399.20" y="619.92" width="3.52" height="3.87" fill="#00ff00"/>
<rect x="406.15" y="619.92" width="3.52" height="3.87" fill="#00ff00"/>
<rect x="409.62" y="619.92" width="10.48" height="3.87" fill="#00a6e0"/>
<rect x="430.47" y="619.92" width="13.95" height="3.87" fill="#00a6e0"/>
<rect x="444.38" y="619.92" width="10.48" height="3.87" fill="#00ff00"/>
<rect x="468.70" y="623.74" width="10.48" height="3.87" fill="#00a6e0"/>
<rect x="479.12" y="623.74" width="48.70" height="3.87" fill="#00ff00"/>
<rect x="399.20" y="623.74" width="17.43" height="3.87" fill="#00a6e0"/>
<rect x="433.95" y="623.74" width="7.00" height="3.87" fill="#00a6e0"/>
<rect x="440.90" y="623.74" width="13.95" height="3.87" fill="#00ff00"/>
<rect x="468.70" y="627.55" width="7.00" height="3.87" fill="#00a6e0"/>
<rect x="479.12" y="627.55" width="45.23" height="3.87" fill="#00ff00"/>
<rect x="413.10" y="627.55" width="3.52" height="3.87" fill="#00a6e0"/>
<rect x="430.47" y="627.55" width="7.00" height="3.87" fill="#00a6e0"/>
<rect x="482.60" y="631.37" width="41.75" height="3.87" fill="#00ff00"/>
<rect x="506.93" y="631.37" width="3.52" height="3.87" fill="#00a6e0"/>
<rect x="406.15" y="631.37" width="13.95" height="3.87" fill="#00a6e0"/>
<rect x="430.47" y="631.37" width="7.00" height="3.87" fill="#00a6e0"/>
<rect x="472.18" y="635.19" width="7.00" height="3.87" fill="#00a6e0"/>
<rect x="479.12" y="635.19" width="48.70" height="3.87" fill="#00ff00"/>
<rect x="406.15" y="635.19" width="20.90" height="3.87" fill="#00a6e0"/>
<rect x="472.18" y="639.00" width="7.00" height="3.87" fill="#00a6e0"/>
<rect x="479.12" y="639.00" width="31.33" height="3.87" fill="#00ff00"/>
<rect x="513.88" y="639.00" width="3.52" height="3.87" fill="#00ff00"/>
<rect x="520.83" y="639.00" width="7.00" height="3.87" fill="#00ff00"/>
<rect x="406.15" y="639.00" width="20.90" height="3.87" fill="#00a6e0"/>
<rect x="475.65" y="642.82" width="31.33" height="3.87" fill="#00ff00"/>
<rect x="510.40" y="642.82" width="3.52" height="3.87" fill="#00ff00"/>
<rect x="520.83" y="642.82" width="7.00" height="3.87" fill="#00ff00"/>
<rect x="406.15" y="642.82" width="20.90" height="3.87" fill="#00a6e0"/>
<rect x="430.47" y="642.82" width="3.52" height="3.87" fill="#00a6e0"/>
<rect x="479.12" y="646.64" width="24.38" height="3.87" fill="#00ff00"/>
<rect x="510.40" y="646.64" width="3.52" height="3.87" fill="#00ff00"/>
<rect x="520.83" y="646.64" width="10.48" height="3.87" fill="#00ff00"/>
<rect x="413.10" y="646.64" width="3.52" height="3.87" fill="#00a6e0"/>
<rect x="482.60" y="650.46" width="20.90" height="3.87" fill="#00ff00"/>
<rect x="510.40" y="650.46" width="3.52" height="3.87" fill="#00ff00"/>
<rect x="524.30" y="650.46" width="7.00" height="3.87" fill="#00ff00"/>
<rect x="413.10" y="650.46" width="3.52" height="3.87" fill="#00a6e0"/>
<rect x="482.60" y="654.27" width="20.90" height="3.87" fill="#00ff00"/>
<rect x="524.30" y="654.27" width="3.52" height="3.87" fill="#ffc000"/>
<rect x="486.07" y="658.09" width="17.43" height="3.87" fill="#00ff00"/>
<rect x="510.40" y="658.09" width="3.52" height="3.87" fill="#00ff00"/>
<rect x="524.30" y="658.09" width="3.52" height="3.87" fill="#ffc000"/>
<rect x="486.07" y="661.91" width="17.43" height="3.87" fill="#00ff00"/>
<rect x="503.45" y="661.91" width="7.00" height="3.87" fill="#ffc000"/>
<rect x="510.40" y="661.91" width="3.52" height="3.87" fill="#00ff00"/>
<rect x="486.07" y="665.72" width="7.00" height="3.87" fill="#00a6e0"/>
<rect x="493.02" y="665.72" width="10.48" height="3.87" fill="#00ff00"/>
<rect x="503.45" y="665.72" width="10.48" height="3.87" fill="#ffc000"/>
<rect x="489.55" y="669.54" width="3.52" height="3.87" fill="#00a6e0"/>
<rect x="496.50" y="669.54" width="7.00" height="3.87" fill="#00ff00"/>
<rect x="506.93" y="669.54" width="3.52" height="3.87" fill="#ffc000"/>
</g>
<g fill="none" stroke="#111" stroke-opacity="0.82" stroke-width="0.95" stroke-linejoin="round"><path d="M399.3 583.7L399.8 581.2L401.0 580.1L402.2 580.2L403.7 582.2L407.6 582.2L411.5 585.1L414.0 589.5L416.9 594.4L418.9 599.3L419.8 606.1L420.3 612.0L420.3 616.9L418.9 620.3L415.4 623.7L413.0 626.6L410.1 627.1L406.6 628.1L405.2 629.8L403.2 628.6L399.3 629.1L399.0 609.1L399.0 587.6Z"/><path d="M415.4 623.7L419.3 622.2L424.2 618.8L430.1 616.4L435.0 616.1L439.9 617.4L444.7 615.4L447.2 612.0L447.7 608.1L447.5 606.1L452.6 606.6L461.8 606.6L463.8 610.0L465.2 615.9L466.2 619.8L467.0 620.8L464.3 618.8L461.8 620.8L458.4 619.3L456.0 619.8L454.5 623.2L452.1 626.1L449.6 627.1L446.7 625.9L444.2 626.1L442.8 628.6L437.9 631.5L436.4 633.5L432.5 634.5L429.1 636.4L427.6 639.8L429.6 642.8L431.6 644.7L430.6 647.1L429.1 651.0L425.2 652.0L420.3 651.5L418.9 654.0L415.4 654.0L412.0 652.0L411.0 648.1L408.1 646.2L404.2 644.2L403.2 642.8L405.2 639.8L406.2 637.4L404.2 636.4L407.6 634.0L411.5 632.0L413.0 628.6Z"/><path d="M473.9 538.8L475.9 536.0L478.8 535.4L481.7 537.3L483.7 539.8L485.2 542.7L485.9 545.6L485.0 547.8L483.2 548.4L480.8 547.4L477.8 546.1L475.2 544.2L473.9 541.2Z"/><path d="M483.7 556.9L485.6 554.9L490.0 553.9L493.0 555.9L496.9 558.8L500.8 562.2L503.2 565.2L505.2 567.9L508.6 567.1L511.5 566.1L512.5 563.2L512.0 559.3L511.7 554.4L512.3 549.0L513.7 548.1L514.9 549.0L515.2 553.4L516.4 555.9L515.2 559.3L514.9 561.2L516.4 563.7L517.4 566.6L516.4 569.1L516.4 574.0L516.4 580.8L514.9 582.7L513.0 584.5L511.7 586.4L504.7 586.4L501.8 585.9L499.8 584.7L496.9 585.5L492.0 585.9L489.1 586.8L487.6 588.6L487.6 591.0L485.2 592.5L484.7 594.9L484.2 598.9L479.3 599.1L472.9 599.5L472.0 603.2L470.5 608.1L469.5 613.0L469.0 617.9L468.1 619.4L467.1 618.9L466.1 615.9L464.6 611.0L461.7 606.7L455.9 606.7L447.6 606.2L447.9 604.2L449.0 598.4L450.0 595.4L450.5 593.5L451.9 590.5L455.4 586.6L459.3 584.5L461.7 583.5L463.7 586.1L467.1 588.6L470.0 590.5L474.4 592.0L476.4 594.0L478.3 595.2L480.8 594.0L481.2 591.5L481.4 589.1L483.2 587.1L483.2 583.7L481.7 580.8L482.2 578.3L483.7 575.9L482.7 573.5L483.7 571.0L484.4 567.1L484.0 562.2Z"/><path d="M517.6 586.6L517.1 590.7L517.6 594.6L519.1 598.1L518.6 602.5L520.5 605.9L522.5 608.3L524.0 612.2L525.9 616.1L527.9 619.1L529.8 622.5L530.5 624.4L527.9 626.4L525.6 629.8L527.4 633.7L528.4 638.6L528.9 644.5L530.1 649.3L529.8 654.2L528.9 660.1L527.4 660.6L523.5 659.6L521.0 659.3L522.0 663.0L520.5 664.5L518.1 664.8L516.6 668.4L513.7 669.1L511.3 669.1L509.8 671.8L506.9 672.8L504.4 673.5L503.0 676.2L499.1 677.2L496.6 676.2L494.7 674.7L492.7 676.2L490.3 674.2L488.3 671.8L486.4 669.4L484.4 669.8L485.9 666.4L487.3 664.0L484.9 659.1L482.5 655.2L480.5 651.3L476.6 645.4L473.2 640.5L471.2 635.7L468.8 630.8L467.3 625.9L465.9 621.0L466.8 619.8L469.3 619.1L469.8 614.2L470.7 609.3L472.2 604.4L472.7 599.5L478.6 598.8L484.4 598.5L484.9 594.6L486.4 592.2L488.3 590.7L488.8 587.8L491.2 586.4L496.1 585.7L500.0 584.7L502.0 586.4L506.9 586.6L512.2 586.8Z"/><path d="M399.5 584.6L399.7 582.4L400.8 580.6L402.6 581.2" stroke="#000" stroke-width="1.35" stroke-opacity="1" stroke-linecap="round"/><circle cx="487.3" cy="541.9" r="0.35" stroke="#777" stroke-width="0.5"/></g>
<text transform="translate(451.20 543.95) scale(1.0607 1)" font-size="5.28" fill="#5e5e5e" >Camiguin</text>
<text transform="translate(460.75 581.65) scale(1.0607 1)" font-size="5.28" fill="#5e5e5e" >Misamis Oriental</text>
<text transform="translate(401.20 601.15) scale(1.0607 1)" font-size="5.28" fill="#5e5e5e" >Misamis Occidental</text>
<text transform="translate(413.10 631.85) scale(1.0607 1)" font-size="5.28" fill="#5e5e5e" >Lanao del Norte</text>
<text transform="translate(488.70 632.05) scale(1.0607 1)" font-size="5.28" fill="#5e5e5e" >Bukidnon</text>
</g>
<g transform="translate(-302,-196.2)">
<g mask="url(#landm)" shape-rendering="crispEdges">
<rect x="475.65" y="539.76" width="3.52" height="3.87" fill="#00ff00"/>
<rect x="475.65" y="543.58" width="3.52" height="3.87" fill="#00ff00"/>
<rect x="499.97" y="562.66" width="3.52" height="3.87" fill="#00ff00"/>
<rect x="506.93" y="566.48" width="3.52" height="3.87" fill="#00ff00"/>
<rect x="482.60" y="570.30" width="3.52" height="3.87" fill="#ffc000"/>
<rect x="486.07" y="570.30" width="3.52" height="3.87" fill="#00ff00"/>
<rect x="499.97" y="570.30" width="10.48" height="3.87" fill="#00ff00"/>
<rect x="513.88" y="570.30" width="3.52" height="3.87" fill="#00ff00"/>
<rect x="486.07" y="574.12" width="3.52" height="3.87" fill="#ffc000"/>
<rect x="499.97" y="574.12" width="17.43" height="3.87" fill="#00ff00"/>
<rect x="506.93" y="577.93" width="7.00" height="3.87" fill="#00ff00"/>
<rect x="482.60" y="581.75" width="13.95" height="3.87" fill="#00ff00"/>
<rect x="406.15" y="581.75" width="3.52" height="3.87" fill="#00ff00"/>
<rect x="486.07" y="585.57" width="7.00" height="3.87" fill="#00ff00"/>
<rect x="461.75" y="585.57" width="3.52" height="3.87" fill="#00ff00"/>
<rect x="482.60" y="589.38" width="3.52" height="3.87" fill="#00ff00"/>
<rect x="461.75" y="589.38" width="3.52" height="3.87" fill="#00ff00"/>
<rect x="465.22" y="589.38" width="3.52" height="3.87" fill="#ffc000"/>
<rect x="458.27" y="593.20" width="13.95" height="3.87" fill="#00ff00"/>
<rect x="472.18" y="593.20" width="3.52" height="3.87" fill="#00a6e0"/>
<rect x="482.60" y="593.20" width="7.00" height="3.87" fill="#00a6e0"/>
<rect x="489.55" y="593.20" width="3.52" height="3.87" fill="#00ff00"/>
<rect x="510.40" y="593.20" width="3.52" height="3.87" fill="#00ff00"/>
<rect x="458.27" y="597.02" width="7.00" height="3.87" fill="#00ff00"/>
<rect x="468.70" y="597.02" width="7.00" height="3.87" fill="#00a6e0"/>
<rect x="482.60" y="597.02" width="10.48" height="3.87" fill="#00a6e0"/>
<rect x="506.93" y="597.02" width="3.52" height="3.87" fill="#00ff00"/>
<rect x="416.57" y="597.02" width="3.52" height="3.87" fill="#00ff00"/>
<rect x="472.18" y="600.83" width="7.00" height="3.87" fill="#00a6e0"/>
<rect x="482.60" y="600.83" width="10.48" height="3.87" fill="#00a6e0"/>
<rect x="496.50" y="600.83" width="3.52" height="3.87" fill="#00ff00"/>
<rect x="472.18" y="604.65" width="10.48" height="3.87" fill="#00a6e0"/>
<rect x="486.07" y="604.65" width="3.52" height="3.87" fill="#00a6e0"/>
<rect x="489.55" y="604.65" width="10.48" height="3.87" fill="#00ff00"/>
<rect x="399.20" y="604.65" width="3.52" height="3.87" fill="#00ff00"/>
<rect x="468.70" y="608.47" width="13.95" height="3.87" fill="#00a6e0"/>
<rect x="489.55" y="608.47" width="13.95" height="3.87" fill="#00ff00"/>
<rect x="513.88" y="608.47" width="7.00" height="3.87" fill="#00ff00"/>
<rect x="399.20" y="608.47" width="3.52" height="3.87" fill="#00ff00"/>
<rect x="468.70" y="612.29" width="13.95" height="3.87" fill="#00a6e0"/>
<rect x="489.55" y="612.29" width="17.43" height="3.87" fill="#00ff00"/>
<rect x="517.35" y="612.29" width="7.00" height="3.87" fill="#00ff00"/>
<rect x="399.20" y="612.29" width="3.52" height="3.87" fill="#00ff00"/>
<rect x="416.57" y="612.29" width="3.52" height="3.87" fill="#00a6e0"/>
<rect x="468.70" y="616.10" width="7.00" height="3.87" fill="#00a6e0"/>
<rect x="499.97" y="616.10" width="10.48" height="3.87" fill="#00ff00"/>
<rect x="517.35" y="616.10" width="7.00" height="3.87" fill="#00ff00"/>
<rect x="399.20" y="616.10" width="3.52" height="3.87" fill="#00ff00"/>
<rect x="416.57" y="616.10" width="3.52" height="3.87" fill="#00a6e0"/>
<rect x="437.43" y="616.10" width="17.43" height="3.87" fill="#00a6e0"/>
<rect x="468.70" y="619.92" width="3.52" height="3.87" fill="#00a6e0"/>
<rect x="503.45" y="619.92" width="7.00" height="3.87" fill="#00ff00"/>
<rect x="517.35" y="619.92" width="10.48" height="3.87" fill="#00ff00"/>
<rect x="423.52" y="619.92" width="3.52" height="3.87" fill="#00a6e0"/>
<rect x="430.47" y="619.92" width="24.38" height="3.87" fill="#00a6e0"/>
<rect x="468.70" y="623.74" width="7.00" height="3.87" fill="#00a6e0"/>
<rect x="489.55" y="623.74" width="7.00" height="3.87" fill="#00a6e0"/>
<rect x="499.97" y="623.74" width="13.95" height="3.87" fill="#00ff00"/>
<rect x="517.35" y="623.74" width="10.48" height="3.87" fill="#00ff00"/>
<rect x="399.20" y="623.74" width="3.52" height="3.87" fill="#00a6e0"/>
<rect x="433.95" y="623.74" width="10.48" height="3.87" fill="#00a6e0"/>
<rect x="444.38" y="623.74" width="10.48" height="3.87" fill="#00ff00"/>
<rect x="468.70" y="627.55" width="7.00" height="3.87" fill="#00a6e0"/>
<rect x="486.07" y="627.55" width="7.00" height="3.87" fill="#00a6e0"/>
<rect x="499.97" y="627.55" width="27.85" height="3.87" fill="#00ff00"/>
<rect x="413.10" y="627.55" width="24.38" height="3.87" fill="#00a6e0"/>
<rect x="493.02" y="631.37" width="7.00" height="3.87" fill="#00ff00"/>
<rect x="503.45" y="631.37" width="10.48" height="3.87" fill="#00a6e0"/>
<rect x="513.88" y="631.37" width="3.52" height="3.87" fill="#00ff00"/>
<rect x="520.83" y="631.37" width="7.00" height="3.87" fill="#00ff00"/>
<rect x="406.15" y="631.37" width="10.48" height="3.87" fill="#00a6e0"/>
<rect x="420.05" y="631.37" width="17.43" height="3.87" fill="#00a6e0"/>
<rect x="475.65" y="635.19" width="7.00" height="3.87" fill="#00a6e0"/>
<rect x="486.07" y="635.19" width="3.52" height="3.87" fill="#00a6e0"/>
<rect x="489.55" y="635.19" width="10.48" height="3.87" fill="#00ff00"/>
<rect x="503.45" y="635.19" width="3.52" height="3.87" fill="#00ff00"/>
<rect x="506.93" y="635.19" width="3.52" height="3.87" fill="#00a6e0"/>
<rect x="510.40" y="635.19" width="7.00" height="3.87" fill="#00ff00"/>
<rect x="520.83" y="635.19" width="7.00" height="3.87" fill="#00ff00"/>
<rect x="406.15" y="635.19" width="20.90" height="3.87" fill="#00a6e0"/>
<rect x="472.18" y="639.00" width="17.43" height="3.87" fill="#00a6e0"/>
<rect x="489.55" y="639.00" width="24.38" height="3.87" fill="#00ff00"/>
<rect x="520.83" y="639.00" width="7.00" height="3.87" fill="#00ff00"/>
<rect x="409.62" y="639.00" width="17.43" height="3.87" fill="#00a6e0"/>
<rect x="479.12" y="642.82" width="24.38" height="3.87" fill="#00ff00"/>
<rect x="524.30" y="642.82" width="7.00" height="3.87" fill="#00ff00"/>
<rect x="413.10" y="642.82" width="13.95" height="3.87" fill="#00a6e0"/>
<rect x="430.47" y="642.82" width="3.52" height="3.87" fill="#00a6e0"/>
<rect x="479.12" y="646.64" width="24.38" height="3.87" fill="#00ff00"/>
<rect x="524.30" y="646.64" width="7.00" height="3.87" fill="#00ff00"/>
<rect x="416.57" y="646.64" width="10.48" height="3.87" fill="#00a6e0"/>
<rect x="482.60" y="650.46" width="20.90" height="3.87" fill="#00ff00"/>
<rect x="524.30" y="650.46" width="7.00" height="3.87" fill="#00ff00"/>
<rect x="413.10" y="650.46" width="7.00" height="3.87" fill="#00a6e0"/>
<rect x="482.60" y="654.27" width="20.90" height="3.87" fill="#00ff00"/>
<rect x="524.30" y="654.27" width="3.52" height="3.87" fill="#00ff00"/>
<rect x="486.07" y="658.09" width="17.43" height="3.87" fill="#00ff00"/>
<rect x="486.07" y="661.91" width="7.00" height="3.87" fill="#00a6e0"/>
<rect x="493.02" y="661.91" width="10.48" height="3.87" fill="#00ff00"/>
<rect x="513.88" y="661.91" width="3.52" height="3.87" fill="#00ff00"/>
<rect x="486.07" y="665.72" width="7.00" height="3.87" fill="#00a6e0"/>
<rect x="493.02" y="665.72" width="10.48" height="3.87" fill="#00ff00"/>
<rect x="489.55" y="669.54" width="7.00" height="3.87" fill="#00a6e0"/>
<rect x="496.50" y="673.36" width="3.52" height="3.87" fill="#00a6e0"/>
</g>
<g fill="none" stroke="#111" stroke-opacity="0.82" stroke-width="0.95" stroke-linejoin="round"><path d="M399.3 583.7L399.8 581.2L401.0 580.1L402.2 580.2L403.7 582.2L407.6 582.2L411.5 585.1L414.0 589.5L416.9 594.4L418.9 599.3L419.8 606.1L420.3 612.0L420.3 616.9L418.9 620.3L415.4 623.7L413.0 626.6L410.1 627.1L406.6 628.1L405.2 629.8L403.2 628.6L399.3 629.1L399.0 609.1L399.0 587.6Z"/><path d="M415.4 623.7L419.3 622.2L424.2 618.8L430.1 616.4L435.0 616.1L439.9 617.4L444.7 615.4L447.2 612.0L447.7 608.1L447.5 606.1L452.6 606.6L461.8 606.6L463.8 610.0L465.2 615.9L466.2 619.8L467.0 620.8L464.3 618.8L461.8 620.8L458.4 619.3L456.0 619.8L454.5 623.2L452.1 626.1L449.6 627.1L446.7 625.9L444.2 626.1L442.8 628.6L437.9 631.5L436.4 633.5L432.5 634.5L429.1 636.4L427.6 639.8L429.6 642.8L431.6 644.7L430.6 647.1L429.1 651.0L425.2 652.0L420.3 651.5L418.9 654.0L415.4 654.0L412.0 652.0L411.0 648.1L408.1 646.2L404.2 644.2L403.2 642.8L405.2 639.8L406.2 637.4L404.2 636.4L407.6 634.0L411.5 632.0L413.0 628.6Z"/><path d="M473.9 538.8L475.9 536.0L478.8 535.4L481.7 537.3L483.7 539.8L485.2 542.7L485.9 545.6L485.0 547.8L483.2 548.4L480.8 547.4L477.8 546.1L475.2 544.2L473.9 541.2Z"/><path d="M483.7 556.9L485.6 554.9L490.0 553.9L493.0 555.9L496.9 558.8L500.8 562.2L503.2 565.2L505.2 567.9L508.6 567.1L511.5 566.1L512.5 563.2L512.0 559.3L511.7 554.4L512.3 549.0L513.7 548.1L514.9 549.0L515.2 553.4L516.4 555.9L515.2 559.3L514.9 561.2L516.4 563.7L517.4 566.6L516.4 569.1L516.4 574.0L516.4 580.8L514.9 582.7L513.0 584.5L511.7 586.4L504.7 586.4L501.8 585.9L499.8 584.7L496.9 585.5L492.0 585.9L489.1 586.8L487.6 588.6L487.6 591.0L485.2 592.5L484.7 594.9L484.2 598.9L479.3 599.1L472.9 599.5L472.0 603.2L470.5 608.1L469.5 613.0L469.0 617.9L468.1 619.4L467.1 618.9L466.1 615.9L464.6 611.0L461.7 606.7L455.9 606.7L447.6 606.2L447.9 604.2L449.0 598.4L450.0 595.4L450.5 593.5L451.9 590.5L455.4 586.6L459.3 584.5L461.7 583.5L463.7 586.1L467.1 588.6L470.0 590.5L474.4 592.0L476.4 594.0L478.3 595.2L480.8 594.0L481.2 591.5L481.4 589.1L483.2 587.1L483.2 583.7L481.7 580.8L482.2 578.3L483.7 575.9L482.7 573.5L483.7 571.0L484.4 567.1L484.0 562.2Z"/><path d="M517.6 586.6L517.1 590.7L517.6 594.6L519.1 598.1L518.6 602.5L520.5 605.9L522.5 608.3L524.0 612.2L525.9 616.1L527.9 619.1L529.8 622.5L530.5 624.4L527.9 626.4L525.6 629.8L527.4 633.7L528.4 638.6L528.9 644.5L530.1 649.3L529.8 654.2L528.9 660.1L527.4 660.6L523.5 659.6L521.0 659.3L522.0 663.0L520.5 664.5L518.1 664.8L516.6 668.4L513.7 669.1L511.3 669.1L509.8 671.8L506.9 672.8L504.4 673.5L503.0 676.2L499.1 677.2L496.6 676.2L494.7 674.7L492.7 676.2L490.3 674.2L488.3 671.8L486.4 669.4L484.4 669.8L485.9 666.4L487.3 664.0L484.9 659.1L482.5 655.2L480.5 651.3L476.6 645.4L473.2 640.5L471.2 635.7L468.8 630.8L467.3 625.9L465.9 621.0L466.8 619.8L469.3 619.1L469.8 614.2L470.7 609.3L472.2 604.4L472.7 599.5L478.6 598.8L484.4 598.5L484.9 594.6L486.4 592.2L488.3 590.7L488.8 587.8L491.2 586.4L496.1 585.7L500.0 584.7L502.0 586.4L506.9 586.6L512.2 586.8Z"/><path d="M399.5 584.6L399.7 582.4L400.8 580.6L402.6 581.2" stroke="#000" stroke-width="1.35" stroke-opacity="1" stroke-linecap="round"/><circle cx="487.3" cy="541.9" r="0.35" stroke="#777" stroke-width="0.5"/></g>
<text transform="translate(451.20 543.95) scale(1.0607 1)" font-size="5.28" fill="#5e5e5e" >Camiguin</text>
<text transform="translate(460.75 581.65) scale(1.0607 1)" font-size="5.28" fill="#5e5e5e" >Misamis Oriental</text>
<text transform="translate(401.20 601.15) scale(1.0607 1)" font-size="5.28" fill="#5e5e5e" >Misamis Occidental</text>
<text transform="translate(413.10 631.85) scale(1.0607 1)" font-size="5.28" fill="#5e5e5e" >Lanao del Norte</text>
<text transform="translate(488.70 632.05) scale(1.0607 1)" font-size="5.28" fill="#5e5e5e" >Bukidnon</text>
</g>
<g transform="translate(-302,0)">
<g shape-rendering="crispEdges">
<rect x="475.65" y="535.95" width="3.52" height="3.87" fill="#31a354"/>
<rect x="489.55" y="551.21" width="3.52" height="3.87" fill="#31a354"/>
<rect x="486.07" y="555.03" width="7.00" height="3.87" fill="#31a354"/>
<rect x="482.60" y="558.85" width="7.00" height="3.87" fill="#31a354"/>
<rect x="486.07" y="562.66" width="7.00" height="3.87" fill="#31a354"/>
<rect x="510.40" y="562.66" width="3.52" height="3.87" fill="#31a354"/>
<rect x="486.07" y="566.48" width="7.00" height="3.87" fill="#31a354"/>
<rect x="503.45" y="566.48" width="7.00" height="3.87" fill="#31a354"/>
<rect x="482.60" y="570.30" width="7.00" height="3.87" fill="#31a354"/>
<rect x="503.45" y="570.30" width="7.00" height="3.87" fill="#31a354"/>
<rect x="482.60" y="574.12" width="27.85" height="3.87" fill="#31a354"/>
<rect x="482.60" y="577.93" width="17.43" height="3.87" fill="#31a354"/>
<rect x="482.60" y="581.75" width="17.43" height="3.87" fill="#31a354"/>
<rect x="402.67" y="581.75" width="10.48" height="3.87" fill="#31a354"/>
<rect x="458.27" y="581.75" width="3.52" height="3.87" fill="#78c679"/>
<rect x="482.60" y="585.57" width="3.52" height="3.87" fill="#78c679"/>
<rect x="486.07" y="585.57" width="17.43" height="3.87" fill="#31a354"/>
<rect x="402.67" y="585.57" width="10.48" height="3.87" fill="#31a354"/>
<rect x="454.80" y="585.57" width="13.95" height="3.87" fill="#78c679"/>
<rect x="482.60" y="589.38" width="3.52" height="3.87" fill="#78c679"/>
<rect x="486.07" y="589.38" width="13.95" height="3.87" fill="#31a354"/>
<rect x="451.32" y="589.38" width="7.00" height="3.87" fill="#31a354"/>
<rect x="458.27" y="589.38" width="7.00" height="3.87" fill="#78c679"/>
<rect x="465.22" y="589.38" width="3.52" height="3.87" fill="#31a354"/>
<rect x="468.70" y="589.38" width="10.48" height="3.87" fill="#78c679"/>
<rect x="458.27" y="593.20" width="10.48" height="3.87" fill="#31a354"/>
<rect x="468.70" y="593.20" width="13.95" height="3.87" fill="#78c679"/>
<rect x="482.60" y="593.20" width="13.95" height="3.87" fill="#31a354"/>
<rect x="506.93" y="593.20" width="10.48" height="3.87" fill="#31a354"/>
<rect x="399.20" y="593.20" width="3.52" height="3.87" fill="#31a354"/>
<rect x="413.10" y="593.20" width="7.00" height="3.87" fill="#31a354"/>
<rect x="468.70" y="597.02" width="27.85" height="3.87" fill="#31a354"/>
<rect x="506.93" y="597.02" width="10.48" height="3.87" fill="#31a354"/>
<rect x="451.32" y="597.02" width="3.52" height="3.87" fill="#31a354"/>
<rect x="399.20" y="597.02" width="3.52" height="3.87" fill="#31a354"/>
<rect x="416.57" y="597.02" width="7.00" height="3.87" fill="#31a354"/>
<rect x="468.70" y="600.83" width="31.33" height="3.87" fill="#31a354"/>
<rect x="451.32" y="600.83" width="3.52" height="3.87" fill="#31a354"/>
<rect x="416.57" y="600.83" width="7.00" height="3.87" fill="#31a354"/>
<rect x="468.70" y="604.65" width="34.80" height="3.87" fill="#31a354"/>
<rect x="513.88" y="604.65" width="10.48" height="3.87" fill="#31a354"/>
<rect x="399.20" y="604.65" width="3.52" height="3.87" fill="#31a354"/>
<rect x="416.57" y="604.65" width="7.00" height="3.87" fill="#31a354"/>
<rect x="468.70" y="608.47" width="38.27" height="3.87" fill="#31a354"/>
<rect x="486.07" y="608.47" width="3.52" height="3.87" fill="#78c679"/>
<rect x="513.88" y="608.47" width="10.48" height="3.87" fill="#31a354"/>
<rect x="399.20" y="608.47" width="3.52" height="3.87" fill="#31a354"/>
<rect x="468.70" y="612.29" width="41.75" height="3.87" fill="#31a354"/>
<rect x="496.50" y="612.29" width="3.52" height="3.87" fill="#78c679"/>
<rect x="503.45" y="612.29" width="7.00" height="3.87" fill="#78c679"/>
<rect x="513.88" y="612.29" width="10.48" height="3.87" fill="#31a354"/>
<rect x="399.20" y="612.29" width="3.52" height="3.87" fill="#31a354"/>
<rect x="409.62" y="612.29" width="10.48" height="3.87" fill="#31a354"/>
<rect x="451.32" y="612.29" width="3.52" height="3.87" fill="#31a354"/>
<rect x="468.70" y="616.10" width="3.52" height="3.87" fill="#31a354"/>
<rect x="496.50" y="616.10" width="7.00" height="3.87" fill="#78c679"/>
<rect x="503.45" y="616.10" width="20.90" height="3.87" fill="#31a354"/>
<rect x="406.15" y="616.10" width="17.43" height="3.87" fill="#31a354"/>
<rect x="437.43" y="616.10" width="3.52" height="3.87" fill="#31a354"/>
<rect x="444.38" y="616.10" width="3.52" height="3.87" fill="#31a354"/>
<rect x="451.32" y="616.10" width="3.52" height="3.87" fill="#31a354"/>
<rect x="468.70" y="619.92" width="7.00" height="3.87" fill="#31a354"/>
<rect x="496.50" y="619.92" width="13.95" height="3.87" fill="#31a354"/>
<rect x="513.88" y="619.92" width="10.48" height="3.87" fill="#31a354"/>
<rect x="399.20" y="619.92" width="3.52" height="3.87" fill="#31a354"/>
<rect x="406.15" y="619.92" width="13.95" height="3.87" fill="#31a354"/>
<rect x="433.95" y="619.92" width="24.38" height="3.87" fill="#31a354"/>
<rect x="468.70" y="623.74" width="7.00" height="3.87" fill="#31a354"/>
<rect x="479.12" y="623.74" width="41.75" height="3.87" fill="#31a354"/>
<rect x="496.50" y="623.74" width="3.52" height="3.87" fill="#78c679"/>
<rect x="520.83" y="623.74" width="3.52" height="3.87" fill="#78c679"/>
<rect x="524.30" y="623.74" width="3.52" height="3.87" fill="#31a354"/>
<rect x="399.20" y="623.74" width="17.43" height="3.87" fill="#31a354"/>
<rect x="433.95" y="623.74" width="20.90" height="3.87" fill="#31a354"/>
<rect x="479.12" y="627.55" width="41.75" height="3.87" fill="#31a354"/>
<rect x="520.83" y="627.55" width="3.52" height="3.87" fill="#78c679"/>
<rect x="399.20" y="627.55" width="13.95" height="3.87" fill="#31a354"/>
<rect x="430.47" y="627.55" width="7.00" height="3.87" fill="#31a354"/>
<rect x="413.10" y="627.55" width="3.52" height="3.87" fill="#31a354"/>
<rect x="482.60" y="631.37" width="3.52" height="3.87" fill="#78c679"/>
<rect x="493.02" y="631.37" width="13.95" height="3.87" fill="#31a354"/>
<rect x="506.93" y="631.37" width="3.52" height="3.87" fill="#78c679"/>
<rect x="510.40" y="631.37" width="13.95" height="3.87" fill="#31a354"/>
<rect x="409.62" y="631.37" width="10.48" height="3.87" fill="#31a354"/>
<rect x="430.47" y="631.37" width="7.00" height="3.87" fill="#31a354"/>
<rect x="472.18" y="635.19" width="7.00" height="3.87" fill="#31a354"/>
<rect x="479.12" y="635.19" width="3.52" height="3.87" fill="#78c679"/>
<rect x="486.07" y="635.19" width="3.52" height="3.87" fill="#78c679"/>
<rect x="489.55" y="635.19" width="3.52" height="3.87" fill="#31a354"/>
<rect x="496.50" y="635.19" width="10.48" height="3.87" fill="#31a354"/>
<rect x="506.93" y="635.19" width="7.00" height="3.87" fill="#78c679"/>
<rect x="513.88" y="635.19" width="13.95" height="3.87" fill="#31a354"/>
<rect x="406.15" y="635.19" width="20.90" height="3.87" fill="#31a354"/>
<rect x="413.10" y="635.19" width="3.52" height="3.87" fill="#78c679"/>
<rect x="468.70" y="639.00" width="3.52" height="3.87" fill="#31a354"/>
<rect x="475.65" y="639.00" width="3.52" height="3.87" fill="#78c679"/>
<rect x="479.12" y="639.00" width="38.27" height="3.87" fill="#31a354"/>
<rect x="524.30" y="639.00" width="7.00" height="3.87" fill="#31a354"/>
<rect x="413.10" y="639.00" width="13.95" height="3.87" fill="#31a354"/>
<rect x="475.65" y="642.82" width="31.33" height="3.87" fill="#31a354"/>
<rect x="520.83" y="642.82" width="10.48" height="3.87" fill="#31a354"/>
<rect x="402.67" y="642.82" width="20.90" height="3.87" fill="#31a354"/>
<rect x="430.47" y="642.82" width="3.52" height="3.87" fill="#31a354"/>
<rect x="475.65" y="646.64" width="31.33" height="3.87" fill="#31a354"/>
<rect x="510.40" y="646.64" width="7.00" height="3.87" fill="#31a354"/>
<rect x="520.83" y="646.64" width="10.48" height="3.87" fill="#31a354"/>
<rect x="409.62" y="646.64" width="7.00" height="3.87" fill="#31a354"/>
<rect x="482.60" y="650.46" width="7.00" height="3.87" fill="#78c679"/>
<rect x="489.55" y="650.46" width="17.43" height="3.87" fill="#31a354"/>
<rect x="510.40" y="650.46" width="3.52" height="3.87" fill="#31a354"/>
<rect x="524.30" y="650.46" width="7.00" height="3.87" fill="#31a354"/>
<rect x="413.10" y="650.46" width="7.00" height="3.87" fill="#31a354"/>
<rect x="479.12" y="654.27" width="10.48" height="3.87" fill="#78c679"/>
<rect x="489.55" y="654.27" width="17.43" height="3.87" fill="#31a354"/>
<rect x="510.40" y="654.27" width="3.52" height="3.87" fill="#31a354"/>
<rect x="524.30" y="654.27" width="7.00" height="3.87" fill="#31a354"/>
<rect x="482.60" y="658.09" width="3.52" height="3.87" fill="#78c679"/>
<rect x="486.07" y="658.09" width="20.90" height="3.87" fill="#31a354"/>
<rect x="513.88" y="658.09" width="3.52" height="3.87" fill="#31a354"/>
<rect x="524.30" y="658.09" width="3.52" height="3.87" fill="#31a354"/>
<rect x="482.60" y="661.91" width="3.52" height="3.87" fill="#78c679"/>
<rect x="486.07" y="661.91" width="27.85" height="3.87" fill="#31a354"/>
<rect x="482.60" y="665.72" width="10.48" height="3.87" fill="#31a354"/>
<rect x="496.50" y="665.72" width="17.43" height="3.87" fill="#31a354"/>
<rect x="486.07" y="669.54" width="3.52" height="3.87" fill="#31a354"/>
<rect x="496.50" y="669.54" width="7.00" height="3.87" fill="#31a354"/>
<rect x="506.93" y="673.36" width="3.52" height="3.87" fill="#31a354"/>
</g>
<g fill="none" stroke="#111" stroke-opacity="0.82" stroke-width="0.95" stroke-linejoin="round"><path d="M399.3 583.7L399.8 581.2L401.0 580.1L402.2 580.2L403.7 582.2L407.6 582.2L411.5 585.1L414.0 589.5L416.9 594.4L418.9 599.3L419.8 606.1L420.3 612.0L420.3 616.9L418.9 620.3L415.4 623.7L413.0 626.6L410.1 627.1L406.6 628.1L405.2 629.8L403.2 628.6L399.3 629.1L399.0 609.1L399.0 587.6Z"/><path d="M415.4 623.7L419.3 622.2L424.2 618.8L430.1 616.4L435.0 616.1L439.9 617.4L444.7 615.4L447.2 612.0L447.7 608.1L447.5 606.1L452.6 606.6L461.8 606.6L463.8 610.0L465.2 615.9L466.2 619.8L467.0 620.8L464.3 618.8L461.8 620.8L458.4 619.3L456.0 619.8L454.5 623.2L452.1 626.1L449.6 627.1L446.7 625.9L444.2 626.1L442.8 628.6L437.9 631.5L436.4 633.5L432.5 634.5L429.1 636.4L427.6 639.8L429.6 642.8L431.6 644.7L430.6 647.1L429.1 651.0L425.2 652.0L420.3 651.5L418.9 654.0L415.4 654.0L412.0 652.0L411.0 648.1L408.1 646.2L404.2 644.2L403.2 642.8L405.2 639.8L406.2 637.4L404.2 636.4L407.6 634.0L411.5 632.0L413.0 628.6Z"/><path d="M473.9 538.8L475.9 536.0L478.8 535.4L481.7 537.3L483.7 539.8L485.2 542.7L485.9 545.6L485.0 547.8L483.2 548.4L480.8 547.4L477.8 546.1L475.2 544.2L473.9 541.2Z"/><path d="M483.7 556.9L485.6 554.9L490.0 553.9L493.0 555.9L496.9 558.8L500.8 562.2L503.2 565.2L505.2 567.9L508.6 567.1L511.5 566.1L512.5 563.2L512.0 559.3L511.7 554.4L512.3 549.0L513.7 548.1L514.9 549.0L515.2 553.4L516.4 555.9L515.2 559.3L514.9 561.2L516.4 563.7L517.4 566.6L516.4 569.1L516.4 574.0L516.4 580.8L514.9 582.7L513.0 584.5L511.7 586.4L504.7 586.4L501.8 585.9L499.8 584.7L496.9 585.5L492.0 585.9L489.1 586.8L487.6 588.6L487.6 591.0L485.2 592.5L484.7 594.9L484.2 598.9L479.3 599.1L472.9 599.5L472.0 603.2L470.5 608.1L469.5 613.0L469.0 617.9L468.1 619.4L467.1 618.9L466.1 615.9L464.6 611.0L461.7 606.7L455.9 606.7L447.6 606.2L447.9 604.2L449.0 598.4L450.0 595.4L450.5 593.5L451.9 590.5L455.4 586.6L459.3 584.5L461.7 583.5L463.7 586.1L467.1 588.6L470.0 590.5L474.4 592.0L476.4 594.0L478.3 595.2L480.8 594.0L481.2 591.5L481.4 589.1L483.2 587.1L483.2 583.7L481.7 580.8L482.2 578.3L483.7 575.9L482.7 573.5L483.7 571.0L484.4 567.1L484.0 562.2Z"/><path d="M517.6 586.6L517.1 590.7L517.6 594.6L519.1 598.1L518.6 602.5L520.5 605.9L522.5 608.3L524.0 612.2L525.9 616.1L527.9 619.1L529.8 622.5L530.5 624.4L527.9 626.4L525.6 629.8L527.4 633.7L528.4 638.6L528.9 644.5L530.1 649.3L529.8 654.2L528.9 660.1L527.4 660.6L523.5 659.6L521.0 659.3L522.0 663.0L520.5 664.5L518.1 664.8L516.6 668.4L513.7 669.1L511.3 669.1L509.8 671.8L506.9 672.8L504.4 673.5L503.0 676.2L499.1 677.2L496.6 676.2L494.7 674.7L492.7 676.2L490.3 674.2L488.3 671.8L486.4 669.4L484.4 669.8L485.9 666.4L487.3 664.0L484.9 659.1L482.5 655.2L480.5 651.3L476.6 645.4L473.2 640.5L471.2 635.7L468.8 630.8L467.3 625.9L465.9 621.0L466.8 619.8L469.3 619.1L469.8 614.2L470.7 609.3L472.2 604.4L472.7 599.5L478.6 598.8L484.4 598.5L484.9 594.6L486.4 592.2L488.3 590.7L488.8 587.8L491.2 586.4L496.1 585.7L500.0 584.7L502.0 586.4L506.9 586.6L512.2 586.8Z"/><path d="M399.5 584.6L399.7 582.4L400.8 580.6L402.6 581.2" stroke="#000" stroke-width="1.35" stroke-opacity="1" stroke-linecap="round"/><circle cx="487.3" cy="541.9" r="0.35" stroke="#777" stroke-width="0.5"/></g>
<text transform="translate(451.20 543.95) scale(1.0607 1)" font-size="5.28" fill="#5e5e5e" >Camiguin</text>
<text transform="translate(460.75 581.65) scale(1.0607 1)" font-size="5.28" fill="#5e5e5e" >Misamis Oriental</text>
<text transform="translate(401.20 601.15) scale(1.0607 1)" font-size="5.28" fill="#5e5e5e" >Misamis Occidental</text>
<text transform="translate(413.10 631.85) scale(1.0607 1)" font-size="5.28" fill="#5e5e5e" >Lanao del Norte</text>
<text transform="translate(488.70 632.05) scale(1.0607 1)" font-size="5.28" fill="#5e5e5e" >Bukidnon</text>
</g>
<g transform="translate(-151,0)">
<path d="M399.3 583.7L399.8 581.2L401.0 580.1L402.2 580.2L403.7 582.2L407.6 582.2L411.5 585.1L414.0 589.5L416.9 594.4L418.9 599.3L419.8 606.1L420.3 612.0L420.3 616.9L418.9 620.3L415.4 623.7L413.0 626.6L410.1 627.1L406.6 628.1L405.2 629.8L403.2 628.6L399.3 629.1L399.0 609.1L399.0 587.6ZM415.4 623.7L419.3 622.2L424.2 618.8L430.1 616.4L435.0 616.1L439.9 617.4L444.7 615.4L447.2 612.0L447.7 608.1L447.5 606.1L452.6 606.6L461.8 606.6L463.8 610.0L465.2 615.9L466.2 619.8L467.0 620.8L464.3 618.8L461.8 620.8L458.4 619.3L456.0 619.8L454.5 623.2L452.1 626.1L449.6 627.1L446.7 625.9L444.2 626.1L442.8 628.6L437.9 631.5L436.4 633.5L432.5 634.5L429.1 636.4L427.6 639.8L429.6 642.8L431.6 644.7L430.6 647.1L429.1 651.0L425.2 652.0L420.3 651.5L418.9 654.0L415.4 654.0L412.0 652.0L411.0 648.1L408.1 646.2L404.2 644.2L403.2 642.8L405.2 639.8L406.2 637.4L404.2 636.4L407.6 634.0L411.5 632.0L413.0 628.6ZM473.9 538.8L475.9 536.0L478.8 535.4L481.7 537.3L483.7 539.8L485.2 542.7L485.9 545.6L485.0 547.8L483.2 548.4L480.8 547.4L477.8 546.1L475.2 544.2L473.9 541.2ZM483.7 556.9L485.6 554.9L490.0 553.9L493.0 555.9L496.9 558.8L500.8 562.2L503.2 565.2L505.2 567.9L508.6 567.1L511.5 566.1L512.5 563.2L512.0 559.3L511.7 554.4L512.3 549.0L513.7 548.1L514.9 549.0L515.2 553.4L516.4 555.9L515.2 559.3L514.9 561.2L516.4 563.7L517.4 566.6L516.4 569.1L516.4 574.0L516.4 580.8L514.9 582.7L513.0 584.5L511.7 586.4L504.7 586.4L501.8 585.9L499.8 584.7L496.9 585.5L492.0 585.9L489.1 586.8L487.6 588.6L487.6 591.0L485.2 592.5L484.7 594.9L484.2 598.9L479.3 599.1L472.9 599.5L472.0 603.2L470.5 608.1L469.5 613.0L469.0 617.9L468.1 619.4L467.1 618.9L466.1 615.9L464.6 611.0L461.7 606.7L455.9 606.7L447.6 606.2L447.9 604.2L449.0 598.4L450.0 595.4L450.5 593.5L451.9 590.5L455.4 586.6L459.3 584.5L461.7 583.5L463.7 586.1L467.1 588.6L470.0 590.5L474.4 592.0L476.4 594.0L478.3 595.2L480.8 594.0L481.2 591.5L481.4 589.1L483.2 587.1L483.2 583.7L481.7 580.8L482.2 578.3L483.7 575.9L482.7 573.5L483.7 571.0L484.4 567.1L484.0 562.2ZM517.6 586.6L517.1 590.7L517.6 594.6L519.1 598.1L518.6 602.5L520.5 605.9L522.5 608.3L524.0 612.2L525.9 616.1L527.9 619.1L529.8 622.5L530.5 624.4L527.9 626.4L525.6 629.8L527.4 633.7L528.4 638.6L528.9 644.5L530.1 649.3L529.8 654.2L528.9 660.1L527.4 660.6L523.5 659.6L521.0 659.3L522.0 663.0L520.5 664.5L518.1 664.8L516.6 668.4L513.7 669.1L511.3 669.1L509.8 671.8L506.9 672.8L504.4 673.5L503.0 676.2L499.1 677.2L496.6 676.2L494.7 674.7L492.7 676.2L490.3 674.2L488.3 671.8L486.4 669.4L484.4 669.8L485.9 666.4L487.3 664.0L484.9 659.1L482.5 655.2L480.5 651.3L476.6 645.4L473.2 640.5L471.2 635.7L468.8 630.8L467.3 625.9L465.9 621.0L466.8 619.8L469.3 619.1L469.8 614.2L470.7 609.3L472.2 604.4L472.7 599.5L478.6 598.8L484.4 598.5L484.9 594.6L486.4 592.2L488.3 590.7L488.8 587.8L491.2 586.4L496.1 585.7L500.0 584.7L502.0 586.4L506.9 586.6L512.2 586.8Z" fill="#abd9e9"/>
<g clip-path="url(#land)" shape-rendering="crispEdges">
<rect x="489.55" y="562.66" width="10.48" height="3.87" fill="#74add1"/>
<rect x="510.40" y="562.66" width="7.00" height="3.87" fill="#74add1"/>
<rect x="489.55" y="566.48" width="10.48" height="3.87" fill="#74add1"/>
<rect x="503.45" y="566.48" width="13.95" height="3.87" fill="#74add1"/>
<rect x="489.55" y="570.30" width="27.85" height="3.87" fill="#74add1"/>
<rect x="493.02" y="574.12" width="17.43" height="3.87" fill="#74add1"/>
<rect x="493.02" y="577.93" width="13.95" height="3.87" fill="#74add1"/>
<rect x="493.02" y="581.75" width="13.95" height="3.87" fill="#74add1"/>
<rect x="406.15" y="581.75" width="10.48" height="3.87" fill="#e0f3f8"/>
<rect x="493.02" y="585.57" width="13.95" height="3.87" fill="#74add1"/>
<rect x="406.15" y="585.57" width="3.52" height="3.87" fill="#e0f3f8"/>
<rect x="413.10" y="585.57" width="7.00" height="3.87" fill="#e0f3f8"/>
<rect x="493.02" y="589.38" width="13.95" height="3.87" fill="#74add1"/>
<rect x="406.15" y="589.38" width="13.95" height="3.87" fill="#e0f3f8"/>
<rect x="461.75" y="593.20" width="38.27" height="3.87" fill="#74add1"/>
<rect x="513.88" y="593.20" width="20.90" height="3.87" fill="#e0f3f8"/>
<rect x="399.20" y="593.20" width="17.43" height="3.87" fill="#e0f3f8"/>
<rect x="465.22" y="597.02" width="31.33" height="3.87" fill="#74add1"/>
<rect x="499.97" y="597.02" width="3.52" height="3.87" fill="#74add1"/>
<rect x="510.40" y="597.02" width="24.38" height="3.87" fill="#e0f3f8"/>
<rect x="399.20" y="597.02" width="17.43" height="3.87" fill="#e0f3f8"/>
<rect x="465.22" y="600.83" width="31.33" height="3.87" fill="#74add1"/>
<rect x="447.85" y="600.83" width="10.48" height="3.87" fill="#74add1"/>
<rect x="510.40" y="600.83" width="24.38" height="3.87" fill="#e0f3f8"/>
<rect x="399.20" y="600.83" width="17.43" height="3.87" fill="#e0f3f8"/>
<rect x="465.22" y="604.65" width="24.38" height="3.87" fill="#74add1"/>
<rect x="506.93" y="604.65" width="27.85" height="3.87" fill="#e0f3f8"/>
<rect x="399.20" y="604.65" width="7.00" height="3.87" fill="#fedc82"/>
<rect x="406.15" y="604.65" width="10.48" height="3.87" fill="#e0f3f8"/>
<rect x="465.22" y="608.47" width="10.48" height="3.87" fill="#74add1"/>
<rect x="479.12" y="608.47" width="3.52" height="3.87" fill="#74add1"/>
<rect x="454.80" y="608.47" width="3.52" height="3.87" fill="#74add1"/>
<rect x="506.93" y="608.47" width="27.85" height="3.87" fill="#e0f3f8"/>
<rect x="399.20" y="608.47" width="10.48" height="3.87" fill="#fedc82"/>
<rect x="409.62" y="608.47" width="3.52" height="3.87" fill="#e0f3f8"/>
<rect x="472.18" y="612.29" width="3.52" height="3.87" fill="#74add1"/>
<rect x="506.93" y="612.29" width="27.85" height="3.87" fill="#e0f3f8"/>
<rect x="399.20" y="612.29" width="10.48" height="3.87" fill="#fedc82"/>
<rect x="409.62" y="612.29" width="3.52" height="3.87" fill="#e0f3f8"/>
<rect x="496.50" y="616.10" width="38.27" height="3.87" fill="#e0f3f8"/>
<rect x="399.20" y="616.10" width="10.48" height="3.87" fill="#e0f3f8"/>
<rect x="402.67" y="616.10" width="3.52" height="3.87" fill="#fedc82"/>
<rect x="493.02" y="619.92" width="41.75" height="3.87" fill="#e0f3f8"/>
<rect x="517.35" y="619.92" width="3.52" height="3.87" fill="#abd9e9"/>
<rect x="399.20" y="619.92" width="10.48" height="3.87" fill="#e0f3f8"/>
<rect x="489.55" y="623.74" width="45.23" height="3.87" fill="#e0f3f8"/>
<rect x="517.35" y="623.74" width="3.52" height="3.87" fill="#abd9e9"/>
<rect x="482.60" y="627.55" width="52.17" height="3.87" fill="#e0f3f8"/>
<rect x="506.93" y="627.55" width="13.95" height="3.87" fill="#abd9e9"/>
<rect x="479.12" y="631.37" width="55.65" height="3.87" fill="#e0f3f8"/>
<rect x="486.07" y="631.37" width="17.43" height="3.87" fill="#fedc82"/>
<rect x="506.93" y="631.37" width="10.48" height="3.87" fill="#abd9e9"/>
<rect x="479.12" y="635.19" width="55.65" height="3.87" fill="#e0f3f8"/>
<rect x="482.60" y="635.19" width="20.90" height="3.87" fill="#fedc82"/>
<rect x="513.88" y="635.19" width="3.52" height="3.87" fill="#fedc82"/>
<rect x="479.12" y="639.00" width="55.65" height="3.87" fill="#e0f3f8"/>
<rect x="493.02" y="639.00" width="7.00" height="3.87" fill="#fedc82"/>
<rect x="510.40" y="639.00" width="17.43" height="3.87" fill="#fedc82"/>
<rect x="479.12" y="642.82" width="55.65" height="3.87" fill="#e0f3f8"/>
<rect x="493.02" y="642.82" width="3.52" height="3.87" fill="#fedc82"/>
<rect x="513.88" y="642.82" width="13.95" height="3.87" fill="#fedc82"/>
<rect x="427.00" y="642.82" width="3.52" height="3.87" fill="#e0f3f8"/>
<rect x="479.12" y="646.64" width="55.65" height="3.87" fill="#e0f3f8"/>
<rect x="513.88" y="646.64" width="17.43" height="3.87" fill="#fedc82"/>
<rect x="416.57" y="646.64" width="7.00" height="3.87" fill="#e0f3f8"/>
<rect x="479.12" y="650.46" width="55.65" height="3.87" fill="#e0f3f8"/>
<rect x="489.55" y="650.46" width="3.52" height="3.87" fill="#abd9e9"/>
<rect x="499.97" y="650.46" width="7.00" height="3.87" fill="#abd9e9"/>
<rect x="517.35" y="650.46" width="13.95" height="3.87" fill="#fedc82"/>
<rect x="479.12" y="654.27" width="55.65" height="3.87" fill="#e0f3f8"/>
<rect x="489.55" y="654.27" width="3.52" height="3.87" fill="#abd9e9"/>
<rect x="499.97" y="654.27" width="7.00" height="3.87" fill="#abd9e9"/>
<rect x="517.35" y="654.27" width="10.48" height="3.87" fill="#fedc82"/>
<rect x="479.12" y="658.09" width="55.65" height="3.87" fill="#e0f3f8"/>
<rect x="499.97" y="658.09" width="10.48" height="3.87" fill="#abd9e9"/>
<rect x="524.30" y="658.09" width="3.52" height="3.87" fill="#fedc82"/>
<rect x="510.40" y="661.91" width="24.38" height="3.87" fill="#e0f3f8"/>
<rect x="517.35" y="661.91" width="7.00" height="3.87" fill="#fedc82"/>
<rect x="506.93" y="665.72" width="27.85" height="3.87" fill="#e0f3f8"/>
<rect x="503.45" y="669.54" width="31.33" height="3.87" fill="#e0f3f8"/>
<rect x="496.50" y="673.36" width="38.27" height="3.87" fill="#e0f3f8"/>
</g>
<path d="M512.2 565.3L512.0 553.5L513.6 548.6L515.0 553.5L515.6 560.5L515.8 565.4Z" fill="#fff"/>
<g fill="none" stroke="#111" stroke-opacity="0.82" stroke-width="0.95" stroke-linejoin="round"><path d="M399.3 583.7L399.8 581.2L401.0 580.1L402.2 580.2L403.7 582.2L407.6 582.2L411.5 585.1L414.0 589.5L416.9 594.4L418.9 599.3L419.8 606.1L420.3 612.0L420.3 616.9L418.9 620.3L415.4 623.7L413.0 626.6L410.1 627.1L406.6 628.1L405.2 629.8L403.2 628.6L399.3 629.1L399.0 609.1L399.0 587.6Z"/><path d="M415.4 623.7L419.3 622.2L424.2 618.8L430.1 616.4L435.0 616.1L439.9 617.4L444.7 615.4L447.2 612.0L447.7 608.1L447.5 606.1L452.6 606.6L461.8 606.6L463.8 610.0L465.2 615.9L466.2 619.8L467.0 620.8L464.3 618.8L461.8 620.8L458.4 619.3L456.0 619.8L454.5 623.2L452.1 626.1L449.6 627.1L446.7 625.9L444.2 626.1L442.8 628.6L437.9 631.5L436.4 633.5L432.5 634.5L429.1 636.4L427.6 639.8L429.6 642.8L431.6 644.7L430.6 647.1L429.1 651.0L425.2 652.0L420.3 651.5L418.9 654.0L415.4 654.0L412.0 652.0L411.0 648.1L408.1 646.2L404.2 644.2L403.2 642.8L405.2 639.8L406.2 637.4L404.2 636.4L407.6 634.0L411.5 632.0L413.0 628.6Z"/><path d="M473.9 538.8L475.9 536.0L478.8 535.4L481.7 537.3L483.7 539.8L485.2 542.7L485.9 545.6L485.0 547.8L483.2 548.4L480.8 547.4L477.8 546.1L475.2 544.2L473.9 541.2Z"/><path d="M483.7 556.9L485.6 554.9L490.0 553.9L493.0 555.9L496.9 558.8L500.8 562.2L503.2 565.2L505.2 567.9L508.6 567.1L511.5 566.1L512.5 563.2L512.0 559.3L511.7 554.4L512.3 549.0L513.7 548.1L514.9 549.0L515.2 553.4L516.4 555.9L515.2 559.3L514.9 561.2L516.4 563.7L517.4 566.6L516.4 569.1L516.4 574.0L516.4 580.8L514.9 582.7L513.0 584.5L511.7 586.4L504.7 586.4L501.8 585.9L499.8 584.7L496.9 585.5L492.0 585.9L489.1 586.8L487.6 588.6L487.6 591.0L485.2 592.5L484.7 594.9L484.2 598.9L479.3 599.1L472.9 599.5L472.0 603.2L470.5 608.1L469.5 613.0L469.0 617.9L468.1 619.4L467.1 618.9L466.1 615.9L464.6 611.0L461.7 606.7L455.9 606.7L447.6 606.2L447.9 604.2L449.0 598.4L450.0 595.4L450.5 593.5L451.9 590.5L455.4 586.6L459.3 584.5L461.7 583.5L463.7 586.1L467.1 588.6L470.0 590.5L474.4 592.0L476.4 594.0L478.3 595.2L480.8 594.0L481.2 591.5L481.4 589.1L483.2 587.1L483.2 583.7L481.7 580.8L482.2 578.3L483.7 575.9L482.7 573.5L483.7 571.0L484.4 567.1L484.0 562.2Z"/><path d="M517.6 586.6L517.1 590.7L517.6 594.6L519.1 598.1L518.6 602.5L520.5 605.9L522.5 608.3L524.0 612.2L525.9 616.1L527.9 619.1L529.8 622.5L530.5 624.4L527.9 626.4L525.6 629.8L527.4 633.7L528.4 638.6L528.9 644.5L530.1 649.3L529.8 654.2L528.9 660.1L527.4 660.6L523.5 659.6L521.0 659.3L522.0 663.0L520.5 664.5L518.1 664.8L516.6 668.4L513.7 669.1L511.3 669.1L509.8 671.8L506.9 672.8L504.4 673.5L503.0 676.2L499.1 677.2L496.6 676.2L494.7 674.7L492.7 676.2L490.3 674.2L488.3 671.8L486.4 669.4L484.4 669.8L485.9 666.4L487.3 664.0L484.9 659.1L482.5 655.2L480.5 651.3L476.6 645.4L473.2 640.5L471.2 635.7L468.8 630.8L467.3 625.9L465.9 621.0L466.8 619.8L469.3 619.1L469.8 614.2L470.7 609.3L472.2 604.4L472.7 599.5L478.6 598.8L484.4 598.5L484.9 594.6L486.4 592.2L488.3 590.7L488.8 587.8L491.2 586.4L496.1 585.7L500.0 584.7L502.0 586.4L506.9 586.6L512.2 586.8Z"/><path d="M399.5 584.6L399.7 582.4L400.8 580.6L402.6 581.2" stroke="#000" stroke-width="1.35" stroke-opacity="1" stroke-linecap="round"/><circle cx="487.3" cy="541.9" r="0.35" stroke="#777" stroke-width="0.5"/></g>
<text transform="translate(451.20 543.95) scale(1.0607 1)" font-size="5.28" fill="#5e5e5e" >Camiguin</text>
<text transform="translate(460.75 581.65) scale(1.0607 1)" font-size="5.28" fill="#5e5e5e" >Misamis Oriental</text>
<text transform="translate(401.20 601.15) scale(1.0607 1)" font-size="5.28" fill="#5e5e5e" >Misamis Occidental</text>
<text transform="translate(413.10 631.85) scale(1.0607 1)" font-size="5.28" fill="#5e5e5e" >Lanao del Norte</text>
<text transform="translate(488.70 632.05) scale(1.0607 1)" font-size="5.28" fill="#5e5e5e" >Bukidnon</text>
</g>
<g transform="translate(0,0)">
<path d="M399.3 583.7L399.8 581.2L401.0 580.1L402.2 580.2L403.7 582.2L407.6 582.2L411.5 585.1L414.0 589.5L416.9 594.4L418.9 599.3L419.8 606.1L420.3 612.0L420.3 616.9L418.9 620.3L415.4 623.7L413.0 626.6L410.1 627.1L406.6 628.1L405.2 629.8L403.2 628.6L399.3 629.1L399.0 609.1L399.0 587.6ZM415.4 623.7L419.3 622.2L424.2 618.8L430.1 616.4L435.0 616.1L439.9 617.4L444.7 615.4L447.2 612.0L447.7 608.1L447.5 606.1L452.6 606.6L461.8 606.6L463.8 610.0L465.2 615.9L466.2 619.8L467.0 620.8L464.3 618.8L461.8 620.8L458.4 619.3L456.0 619.8L454.5 623.2L452.1 626.1L449.6 627.1L446.7 625.9L444.2 626.1L442.8 628.6L437.9 631.5L436.4 633.5L432.5 634.5L429.1 636.4L427.6 639.8L429.6 642.8L431.6 644.7L430.6 647.1L429.1 651.0L425.2 652.0L420.3 651.5L418.9 654.0L415.4 654.0L412.0 652.0L411.0 648.1L408.1 646.2L404.2 644.2L403.2 642.8L405.2 639.8L406.2 637.4L404.2 636.4L407.6 634.0L411.5 632.0L413.0 628.6ZM473.9 538.8L475.9 536.0L478.8 535.4L481.7 537.3L483.7 539.8L485.2 542.7L485.9 545.6L485.0 547.8L483.2 548.4L480.8 547.4L477.8 546.1L475.2 544.2L473.9 541.2ZM483.7 556.9L485.6 554.9L490.0 553.9L493.0 555.9L496.9 558.8L500.8 562.2L503.2 565.2L505.2 567.9L508.6 567.1L511.5 566.1L512.5 563.2L512.0 559.3L511.7 554.4L512.3 549.0L513.7 548.1L514.9 549.0L515.2 553.4L516.4 555.9L515.2 559.3L514.9 561.2L516.4 563.7L517.4 566.6L516.4 569.1L516.4 574.0L516.4 580.8L514.9 582.7L513.0 584.5L511.7 586.4L504.7 586.4L501.8 585.9L499.8 584.7L496.9 585.5L492.0 585.9L489.1 586.8L487.6 588.6L487.6 591.0L485.2 592.5L484.7 594.9L484.2 598.9L479.3 599.1L472.9 599.5L472.0 603.2L470.5 608.1L469.5 613.0L469.0 617.9L468.1 619.4L467.1 618.9L466.1 615.9L464.6 611.0L461.7 606.7L455.9 606.7L447.6 606.2L447.9 604.2L449.0 598.4L450.0 595.4L450.5 593.5L451.9 590.5L455.4 586.6L459.3 584.5L461.7 583.5L463.7 586.1L467.1 588.6L470.0 590.5L474.4 592.0L476.4 594.0L478.3 595.2L480.8 594.0L481.2 591.5L481.4 589.1L483.2 587.1L483.2 583.7L481.7 580.8L482.2 578.3L483.7 575.9L482.7 573.5L483.7 571.0L484.4 567.1L484.0 562.2ZM517.6 586.6L517.1 590.7L517.6 594.6L519.1 598.1L518.6 602.5L520.5 605.9L522.5 608.3L524.0 612.2L525.9 616.1L527.9 619.1L529.8 622.5L530.5 624.4L527.9 626.4L525.6 629.8L527.4 633.7L528.4 638.6L528.9 644.5L530.1 649.3L529.8 654.2L528.9 660.1L527.4 660.6L523.5 659.6L521.0 659.3L522.0 663.0L520.5 664.5L518.1 664.8L516.6 668.4L513.7 669.1L511.3 669.1L509.8 671.8L506.9 672.8L504.4 673.5L503.0 676.2L499.1 677.2L496.6 676.2L494.7 674.7L492.7 676.2L490.3 674.2L488.3 671.8L486.4 669.4L484.4 669.8L485.9 666.4L487.3 664.0L484.9 659.1L482.5 655.2L480.5 651.3L476.6 645.4L473.2 640.5L471.2 635.7L468.8 630.8L467.3 625.9L465.9 621.0L466.8 619.8L469.3 619.1L469.8 614.2L470.7 609.3L472.2 604.4L472.7 599.5L478.6 598.8L484.4 598.5L484.9 594.6L486.4 592.2L488.3 590.7L488.8 587.8L491.2 586.4L496.1 585.7L500.0 584.7L502.0 586.4L506.9 586.6L512.2 586.8Z" fill="#ffffcc"/>
<path d="M512.2 565.3L512.0 553.5L513.6 548.6L515.0 553.5L515.6 560.5L515.8 565.4Z" fill="#fff"/>
<g fill="none" stroke="#111" stroke-opacity="0.82" stroke-width="0.95" stroke-linejoin="round"><path d="M399.3 583.7L399.8 581.2L401.0 580.1L402.2 580.2L403.7 582.2L407.6 582.2L411.5 585.1L414.0 589.5L416.9 594.4L418.9 599.3L419.8 606.1L420.3 612.0L420.3 616.9L418.9 620.3L415.4 623.7L413.0 626.6L410.1 627.1L406.6 628.1L405.2 629.8L403.2 628.6L399.3 629.1L399.0 609.1L399.0 587.6Z"/><path d="M415.4 623.7L419.3 622.2L424.2 618.8L430.1 616.4L435.0 616.1L439.9 617.4L444.7 615.4L447.2 612.0L447.7 608.1L447.5 606.1L452.6 606.6L461.8 606.6L463.8 610.0L465.2 615.9L466.2 619.8L467.0 620.8L464.3 618.8L461.8 620.8L458.4 619.3L456.0 619.8L454.5 623.2L452.1 626.1L449.6 627.1L446.7 625.9L444.2 626.1L442.8 628.6L437.9 631.5L436.4 633.5L432.5 634.5L429.1 636.4L427.6 639.8L429.6 642.8L431.6 644.7L430.6 647.1L429.1 651.0L425.2 652.0L420.3 651.5L418.9 654.0L415.4 654.0L412.0 652.0L411.0 648.1L408.1 646.2L404.2 644.2L403.2 642.8L405.2 639.8L406.2 637.4L404.2 636.4L407.6 634.0L411.5 632.0L413.0 628.6Z"/><path d="M473.9 538.8L475.9 536.0L478.8 535.4L481.7 537.3L483.7 539.8L485.2 542.7L485.9 545.6L485.0 547.8L483.2 548.4L480.8 547.4L477.8 546.1L475.2 544.2L473.9 541.2Z"/><path d="M483.7 556.9L485.6 554.9L490.0 553.9L493.0 555.9L496.9 558.8L500.8 562.2L503.2 565.2L505.2 567.9L508.6 567.1L511.5 566.1L512.5 563.2L512.0 559.3L511.7 554.4L512.3 549.0L513.7 548.1L514.9 549.0L515.2 553.4L516.4 555.9L515.2 559.3L514.9 561.2L516.4 563.7L517.4 566.6L516.4 569.1L516.4 574.0L516.4 580.8L514.9 582.7L513.0 584.5L511.7 586.4L504.7 586.4L501.8 585.9L499.8 584.7L496.9 585.5L492.0 585.9L489.1 586.8L487.6 588.6L487.6 591.0L485.2 592.5L484.7 594.9L484.2 598.9L479.3 599.1L472.9 599.5L472.0 603.2L470.5 608.1L469.5 613.0L469.0 617.9L468.1 619.4L467.1 618.9L466.1 615.9L464.6 611.0L461.7 606.7L455.9 606.7L447.6 606.2L447.9 604.2L449.0 598.4L450.0 595.4L450.5 593.5L451.9 590.5L455.4 586.6L459.3 584.5L461.7 583.5L463.7 586.1L467.1 588.6L470.0 590.5L474.4 592.0L476.4 594.0L478.3 595.2L480.8 594.0L481.2 591.5L481.4 589.1L483.2 587.1L483.2 583.7L481.7 580.8L482.2 578.3L483.7 575.9L482.7 573.5L483.7 571.0L484.4 567.1L484.0 562.2Z"/><path d="M517.6 586.6L517.1 590.7L517.6 594.6L519.1 598.1L518.6 602.5L520.5 605.9L522.5 608.3L524.0 612.2L525.9 616.1L527.9 619.1L529.8 622.5L530.5 624.4L527.9 626.4L525.6 629.8L527.4 633.7L528.4 638.6L528.9 644.5L530.1 649.3L529.8 654.2L528.9 660.1L527.4 660.6L523.5 659.6L521.0 659.3L522.0 663.0L520.5 664.5L518.1 664.8L516.6 668.4L513.7 669.1L511.3 669.1L509.8 671.8L506.9 672.8L504.4 673.5L503.0 676.2L499.1 677.2L496.6 676.2L494.7 674.7L492.7 676.2L490.3 674.2L488.3 671.8L486.4 669.4L484.4 669.8L485.9 666.4L487.3 664.0L484.9 659.1L482.5 655.2L480.5 651.3L476.6 645.4L473.2 640.5L471.2 635.7L468.8 630.8L467.3 625.9L465.9 621.0L466.8 619.8L469.3 619.1L469.8 614.2L470.7 609.3L472.2 604.4L472.7 599.5L478.6 598.8L484.4 598.5L484.9 594.6L486.4 592.2L488.3 590.7L488.8 587.8L491.2 586.4L496.1 585.7L500.0 584.7L502.0 586.4L506.9 586.6L512.2 586.8Z"/><path d="M399.5 584.6L399.7 582.4L400.8 580.6L402.6 581.2" stroke="#000" stroke-width="1.35" stroke-opacity="1" stroke-linecap="round"/><circle cx="487.3" cy="541.9" r="0.35" stroke="#777" stroke-width="0.5"/></g>
<text transform="translate(451.20 543.95) scale(1.0607 1)" font-size="5.28" fill="#5e5e5e" >Camiguin</text>
<text transform="translate(460.75 581.65) scale(1.0607 1)" font-size="5.28" fill="#5e5e5e" >Misamis Oriental</text>
<text transform="translate(401.20 601.15) scale(1.0607 1)" font-size="5.28" fill="#5e5e5e" >Misamis Occidental</text>
<text transform="translate(413.10 631.85) scale(1.0607 1)" font-size="5.28" fill="#5e5e5e" >Lanao del Norte</text>
<text transform="translate(488.70 632.05) scale(1.0607 1)" font-size="5.28" fill="#5e5e5e" >Bukidnon</text>
</g>
<g transform="translate(151,0)">
<path d="M399.3 583.7L399.8 581.2L401.0 580.1L402.2 580.2L403.7 582.2L407.6 582.2L411.5 585.1L414.0 589.5L416.9 594.4L418.9 599.3L419.8 606.1L420.3 612.0L420.3 616.9L418.9 620.3L415.4 623.7L413.0 626.6L410.1 627.1L406.6 628.1L405.2 629.8L403.2 628.6L399.3 629.1L399.0 609.1L399.0 587.6ZM415.4 623.7L419.3 622.2L424.2 618.8L430.1 616.4L435.0 616.1L439.9 617.4L444.7 615.4L447.2 612.0L447.7 608.1L447.5 606.1L452.6 606.6L461.8 606.6L463.8 610.0L465.2 615.9L466.2 619.8L467.0 620.8L464.3 618.8L461.8 620.8L458.4 619.3L456.0 619.8L454.5 623.2L452.1 626.1L449.6 627.1L446.7 625.9L444.2 626.1L442.8 628.6L437.9 631.5L436.4 633.5L432.5 634.5L429.1 636.4L427.6 639.8L429.6 642.8L431.6 644.7L430.6 647.1L429.1 651.0L425.2 652.0L420.3 651.5L418.9 654.0L415.4 654.0L412.0 652.0L411.0 648.1L408.1 646.2L404.2 644.2L403.2 642.8L405.2 639.8L406.2 637.4L404.2 636.4L407.6 634.0L411.5 632.0L413.0 628.6ZM473.9 538.8L475.9 536.0L478.8 535.4L481.7 537.3L483.7 539.8L485.2 542.7L485.9 545.6L485.0 547.8L483.2 548.4L480.8 547.4L477.8 546.1L475.2 544.2L473.9 541.2ZM483.7 556.9L485.6 554.9L490.0 553.9L493.0 555.9L496.9 558.8L500.8 562.2L503.2 565.2L505.2 567.9L508.6 567.1L511.5 566.1L512.5 563.2L512.0 559.3L511.7 554.4L512.3 549.0L513.7 548.1L514.9 549.0L515.2 553.4L516.4 555.9L515.2 559.3L514.9 561.2L516.4 563.7L517.4 566.6L516.4 569.1L516.4 574.0L516.4 580.8L514.9 582.7L513.0 584.5L511.7 586.4L504.7 586.4L501.8 585.9L499.8 584.7L496.9 585.5L492.0 585.9L489.1 586.8L487.6 588.6L487.6 591.0L485.2 592.5L484.7 594.9L484.2 598.9L479.3 599.1L472.9 599.5L472.0 603.2L470.5 608.1L469.5 613.0L469.0 617.9L468.1 619.4L467.1 618.9L466.1 615.9L464.6 611.0L461.7 606.7L455.9 606.7L447.6 606.2L447.9 604.2L449.0 598.4L450.0 595.4L450.5 593.5L451.9 590.5L455.4 586.6L459.3 584.5L461.7 583.5L463.7 586.1L467.1 588.6L470.0 590.5L474.4 592.0L476.4 594.0L478.3 595.2L480.8 594.0L481.2 591.5L481.4 589.1L483.2 587.1L483.2 583.7L481.7 580.8L482.2 578.3L483.7 575.9L482.7 573.5L483.7 571.0L484.4 567.1L484.0 562.2ZM517.6 586.6L517.1 590.7L517.6 594.6L519.1 598.1L518.6 602.5L520.5 605.9L522.5 608.3L524.0 612.2L525.9 616.1L527.9 619.1L529.8 622.5L530.5 624.4L527.9 626.4L525.6 629.8L527.4 633.7L528.4 638.6L528.9 644.5L530.1 649.3L529.8 654.2L528.9 660.1L527.4 660.6L523.5 659.6L521.0 659.3L522.0 663.0L520.5 664.5L518.1 664.8L516.6 668.4L513.7 669.1L511.3 669.1L509.8 671.8L506.9 672.8L504.4 673.5L503.0 676.2L499.1 677.2L496.6 676.2L494.7 674.7L492.7 676.2L490.3 674.2L488.3 671.8L486.4 669.4L484.4 669.8L485.9 666.4L487.3 664.0L484.9 659.1L482.5 655.2L480.5 651.3L476.6 645.4L473.2 640.5L471.2 635.7L468.8 630.8L467.3 625.9L465.9 621.0L466.8 619.8L469.3 619.1L469.8 614.2L470.7 609.3L472.2 604.4L472.7 599.5L478.6 598.8L484.4 598.5L484.9 594.6L486.4 592.2L488.3 590.7L488.8 587.8L491.2 586.4L496.1 585.7L500.0 584.7L502.0 586.4L506.9 586.6L512.2 586.8Z" fill="#ffffcc"/>
<g clip-path="url(#land)" shape-rendering="crispEdges">
<rect x="395.72" y="528.31" width="86.92" height="3.87" fill="#edf8b1"/>
<rect x="395.72" y="532.13" width="86.92" height="3.87" fill="#edf8b1"/>
<rect x="395.72" y="535.95" width="86.92" height="3.87" fill="#edf8b1"/>
<rect x="468.70" y="535.95" width="20.90" height="3.87" fill="#edf8b1"/>
<rect x="395.72" y="539.76" width="86.92" height="3.87" fill="#edf8b1"/>
<rect x="468.70" y="539.76" width="20.90" height="3.87" fill="#edf8b1"/>
<rect x="395.72" y="543.58" width="86.92" height="3.87" fill="#edf8b1"/>
<rect x="468.70" y="543.58" width="20.90" height="3.87" fill="#edf8b1"/>
<rect x="395.72" y="547.40" width="86.92" height="3.87" fill="#edf8b1"/>
<rect x="468.70" y="547.40" width="20.90" height="3.87" fill="#edf8b1"/>
<rect x="395.72" y="551.21" width="86.92" height="3.87" fill="#edf8b1"/>
<rect x="395.72" y="555.03" width="86.92" height="3.87" fill="#edf8b1"/>
<rect x="395.72" y="558.85" width="86.92" height="3.87" fill="#edf8b1"/>
<rect x="395.72" y="562.66" width="86.92" height="3.87" fill="#edf8b1"/>
<rect x="486.07" y="562.66" width="13.95" height="3.87" fill="#edf8b1"/>
<rect x="486.07" y="562.66" width="3.52" height="3.87" fill="#ffffcc"/>
<rect x="506.93" y="562.66" width="10.48" height="3.87" fill="#edf8b1"/>
<rect x="395.72" y="566.48" width="86.92" height="3.87" fill="#edf8b1"/>
<rect x="486.07" y="566.48" width="13.95" height="3.87" fill="#edf8b1"/>
<rect x="506.93" y="566.48" width="10.48" height="3.87" fill="#edf8b1"/>
<rect x="395.72" y="570.30" width="86.92" height="3.87" fill="#edf8b1"/>
<rect x="486.07" y="570.30" width="13.95" height="3.87" fill="#edf8b1"/>
<rect x="506.93" y="570.30" width="10.48" height="3.87" fill="#edf8b1"/>
<rect x="395.72" y="574.12" width="86.92" height="3.87" fill="#edf8b1"/>
<rect x="486.07" y="574.12" width="13.95" height="3.87" fill="#edf8b1"/>
<rect x="506.93" y="574.12" width="10.48" height="3.87" fill="#edf8b1"/>
<rect x="395.72" y="577.93" width="86.92" height="3.87" fill="#edf8b1"/>
<rect x="506.93" y="577.93" width="10.48" height="3.87" fill="#edf8b1"/>
<rect x="395.72" y="581.75" width="86.92" height="3.87" fill="#edf8b1"/>
<rect x="395.72" y="585.57" width="86.92" height="3.87" fill="#edf8b1"/>
<rect x="395.72" y="589.38" width="86.92" height="3.87" fill="#edf8b1"/>
<rect x="499.97" y="589.38" width="17.43" height="3.87" fill="#edf8b1"/>
<rect x="461.75" y="589.38" width="3.52" height="3.87" fill="#ffffcc"/>
<rect x="395.72" y="593.20" width="86.92" height="3.87" fill="#edf8b1"/>
<rect x="499.97" y="593.20" width="17.43" height="3.87" fill="#edf8b1"/>
<rect x="395.72" y="597.02" width="86.92" height="3.87" fill="#edf8b1"/>
<rect x="468.70" y="597.02" width="20.90" height="3.87" fill="#edf8b1"/>
<rect x="499.97" y="597.02" width="17.43" height="3.87" fill="#edf8b1"/>
<rect x="395.72" y="600.83" width="86.92" height="3.87" fill="#edf8b1"/>
<rect x="468.70" y="600.83" width="20.90" height="3.87" fill="#edf8b1"/>
<rect x="503.45" y="600.83" width="10.48" height="3.87" fill="#edf8b1"/>
<rect x="395.72" y="604.65" width="86.92" height="3.87" fill="#edf8b1"/>
<rect x="468.70" y="604.65" width="24.38" height="3.87" fill="#edf8b1"/>
<rect x="395.72" y="608.47" width="86.92" height="3.87" fill="#edf8b1"/>
<rect x="468.70" y="608.47" width="24.38" height="3.87" fill="#edf8b1"/>
<rect x="395.72" y="612.29" width="86.92" height="3.87" fill="#edf8b1"/>
<rect x="468.70" y="612.29" width="27.85" height="3.87" fill="#edf8b1"/>
<rect x="395.72" y="616.10" width="86.92" height="3.87" fill="#edf8b1"/>
<rect x="468.70" y="616.10" width="27.85" height="3.87" fill="#edf8b1"/>
<rect x="395.72" y="619.92" width="86.92" height="3.87" fill="#edf8b1"/>
<rect x="468.70" y="619.92" width="27.85" height="3.87" fill="#edf8b1"/>
<rect x="395.72" y="623.74" width="86.92" height="3.87" fill="#edf8b1"/>
<rect x="468.70" y="623.74" width="31.33" height="3.87" fill="#edf8b1"/>
<rect x="395.72" y="627.55" width="86.92" height="3.87" fill="#edf8b1"/>
<rect x="468.70" y="627.55" width="31.33" height="3.87" fill="#edf8b1"/>
<rect x="395.72" y="631.37" width="86.92" height="3.87" fill="#edf8b1"/>
<rect x="468.70" y="631.37" width="31.33" height="3.87" fill="#edf8b1"/>
<rect x="517.35" y="631.37" width="3.52" height="3.87" fill="#edf8b1"/>
<rect x="406.15" y="631.37" width="17.43" height="3.87" fill="#c7e9b4"/>
<rect x="395.72" y="635.19" width="86.92" height="3.87" fill="#edf8b1"/>
<rect x="468.70" y="635.19" width="31.33" height="3.87" fill="#edf8b1"/>
<rect x="406.15" y="635.19" width="20.90" height="3.87" fill="#c7e9b4"/>
<rect x="395.72" y="639.00" width="86.92" height="3.87" fill="#edf8b1"/>
<rect x="468.70" y="639.00" width="31.33" height="3.87" fill="#edf8b1"/>
<rect x="406.15" y="639.00" width="24.38" height="3.87" fill="#c7e9b4"/>
<rect x="395.72" y="642.82" width="86.92" height="3.87" fill="#edf8b1"/>
<rect x="468.70" y="642.82" width="27.85" height="3.87" fill="#edf8b1"/>
<rect x="406.15" y="642.82" width="24.38" height="3.87" fill="#c7e9b4"/>
<rect x="395.72" y="646.64" width="86.92" height="3.87" fill="#edf8b1"/>
<rect x="468.70" y="646.64" width="24.38" height="3.87" fill="#edf8b1"/>
<rect x="406.15" y="646.64" width="24.38" height="3.87" fill="#c7e9b4"/>
<rect x="395.72" y="650.46" width="86.92" height="3.87" fill="#edf8b1"/>
<rect x="468.70" y="650.46" width="24.38" height="3.87" fill="#edf8b1"/>
<rect x="409.62" y="650.46" width="17.43" height="3.87" fill="#c7e9b4"/>
<rect x="395.72" y="654.27" width="86.92" height="3.87" fill="#edf8b1"/>
<rect x="395.72" y="658.09" width="86.92" height="3.87" fill="#edf8b1"/>
<rect x="395.72" y="661.91" width="86.92" height="3.87" fill="#edf8b1"/>
<rect x="395.72" y="665.72" width="86.92" height="3.87" fill="#edf8b1"/>
<rect x="395.72" y="669.54" width="86.92" height="3.87" fill="#edf8b1"/>
<rect x="395.72" y="673.36" width="86.92" height="3.87" fill="#edf8b1"/>
<rect x="395.72" y="677.17" width="86.92" height="3.87" fill="#edf8b1"/>
<rect x="395.72" y="680.99" width="86.92" height="3.87" fill="#edf8b1"/>
<rect x="395.72" y="684.81" width="86.92" height="3.87" fill="#edf8b1"/>
</g>
<path d="M512.2 565.3L512.0 553.5L513.6 548.6L515.0 553.5L515.6 560.5L515.8 565.4Z" fill="#fff"/>
<g fill="none" stroke="#111" stroke-opacity="0.82" stroke-width="0.95" stroke-linejoin="round"><path d="M399.3 583.7L399.8 581.2L401.0 580.1L402.2 580.2L403.7 582.2L407.6 582.2L411.5 585.1L414.0 589.5L416.9 594.4L418.9 599.3L419.8 606.1L420.3 612.0L420.3 616.9L418.9 620.3L415.4 623.7L413.0 626.6L410.1 627.1L406.6 628.1L405.2 629.8L403.2 628.6L399.3 629.1L399.0 609.1L399.0 587.6Z"/><path d="M415.4 623.7L419.3 622.2L424.2 618.8L430.1 616.4L435.0 616.1L439.9 617.4L444.7 615.4L447.2 612.0L447.7 608.1L447.5 606.1L452.6 606.6L461.8 606.6L463.8 610.0L465.2 615.9L466.2 619.8L467.0 620.8L464.3 618.8L461.8 620.8L458.4 619.3L456.0 619.8L454.5 623.2L452.1 626.1L449.6 627.1L446.7 625.9L444.2 626.1L442.8 628.6L437.9 631.5L436.4 633.5L432.5 634.5L429.1 636.4L427.6 639.8L429.6 642.8L431.6 644.7L430.6 647.1L429.1 651.0L425.2 652.0L420.3 651.5L418.9 654.0L415.4 654.0L412.0 652.0L411.0 648.1L408.1 646.2L404.2 644.2L403.2 642.8L405.2 639.8L406.2 637.4L404.2 636.4L407.6 634.0L411.5 632.0L413.0 628.6Z"/><path d="M473.9 538.8L475.9 536.0L478.8 535.4L481.7 537.3L483.7 539.8L485.2 542.7L485.9 545.6L485.0 547.8L483.2 548.4L480.8 547.4L477.8 546.1L475.2 544.2L473.9 541.2Z"/><path d="M483.7 556.9L485.6 554.9L490.0 553.9L493.0 555.9L496.9 558.8L500.8 562.2L503.2 565.2L505.2 567.9L508.6 567.1L511.5 566.1L512.5 563.2L512.0 559.3L511.7 554.4L512.3 549.0L513.7 548.1L514.9 549.0L515.2 553.4L516.4 555.9L515.2 559.3L514.9 561.2L516.4 563.7L517.4 566.6L516.4 569.1L516.4 574.0L516.4 580.8L514.9 582.7L513.0 584.5L511.7 586.4L504.7 586.4L501.8 585.9L499.8 584.7L496.9 585.5L492.0 585.9L489.1 586.8L487.6 588.6L487.6 591.0L485.2 592.5L484.7 594.9L484.2 598.9L479.3 599.1L472.9 599.5L472.0 603.2L470.5 608.1L469.5 613.0L469.0 617.9L468.1 619.4L467.1 618.9L466.1 615.9L464.6 611.0L461.7 606.7L455.9 606.7L447.6 606.2L447.9 604.2L449.0 598.4L450.0 595.4L450.5 593.5L451.9 590.5L455.4 586.6L459.3 584.5L461.7 583.5L463.7 586.1L467.1 588.6L470.0 590.5L474.4 592.0L476.4 594.0L478.3 595.2L480.8 594.0L481.2 591.5L481.4 589.1L483.2 587.1L483.2 583.7L481.7 580.8L482.2 578.3L483.7 575.9L482.7 573.5L483.7 571.0L484.4 567.1L484.0 562.2Z"/><path d="M517.6 586.6L517.1 590.7L517.6 594.6L519.1 598.1L518.6 602.5L520.5 605.9L522.5 608.3L524.0 612.2L525.9 616.1L527.9 619.1L529.8 622.5L530.5 624.4L527.9 626.4L525.6 629.8L527.4 633.7L528.4 638.6L528.9 644.5L530.1 649.3L529.8 654.2L528.9 660.1L527.4 660.6L523.5 659.6L521.0 659.3L522.0 663.0L520.5 664.5L518.1 664.8L516.6 668.4L513.7 669.1L511.3 669.1L509.8 671.8L506.9 672.8L504.4 673.5L503.0 676.2L499.1 677.2L496.6 676.2L494.7 674.7L492.7 676.2L490.3 674.2L488.3 671.8L486.4 669.4L484.4 669.8L485.9 666.4L487.3 664.0L484.9 659.1L482.5 655.2L480.5 651.3L476.6 645.4L473.2 640.5L471.2 635.7L468.8 630.8L467.3 625.9L465.9 621.0L466.8 619.8L469.3 619.1L469.8 614.2L470.7 609.3L472.2 604.4L472.7 599.5L478.6 598.8L484.4 598.5L484.9 594.6L486.4 592.2L488.3 590.7L488.8 587.8L491.2 586.4L496.1 585.7L500.0 584.7L502.0 586.4L506.9 586.6L512.2 586.8Z"/><path d="M399.5 584.6L399.7 582.4L400.8 580.6L402.6 581.2" stroke="#000" stroke-width="1.35" stroke-opacity="1" stroke-linecap="round"/><circle cx="487.3" cy="541.9" r="0.35" stroke="#777" stroke-width="0.5"/></g>
<text transform="translate(451.20 543.95) scale(1.0607 1)" font-size="5.28" fill="#5e5e5e" >Camiguin</text>
<text transform="translate(460.75 581.65) scale(1.0607 1)" font-size="5.28" fill="#5e5e5e" >Misamis Oriental</text>
<text transform="translate(401.20 601.15) scale(1.0607 1)" font-size="5.28" fill="#5e5e5e" >Misamis Occidental</text>
<text transform="translate(413.10 631.85) scale(1.0607 1)" font-size="5.28" fill="#5e5e5e" >Lanao del Norte</text>
<text transform="translate(488.70 632.05) scale(1.0607 1)" font-size="5.28" fill="#5e5e5e" >Bukidnon</text>
</g>
<rect x="111.20" y="708.80" width="12.10" height="8.60" fill="#b35806" stroke="#222" stroke-width="0.8"/>
<rect x="123.30" y="708.80" width="12.10" height="8.60" fill="#e08214" stroke="#222" stroke-width="0.8"/>
<rect x="135.40" y="708.80" width="12.10" height="8.60" fill="#fdae61" stroke="#222" stroke-width="0.8"/>
<rect x="147.50" y="708.80" width="12.10" height="8.60" fill="#fee08b" stroke="#222" stroke-width="0.8"/>
<rect x="159.60" y="708.80" width="12.10" height="8.60" fill="#d9ef8b" stroke="#222" stroke-width="0.8"/>
<rect x="171.70" y="708.80" width="12.10" height="8.60" fill="#78c679" stroke="#222" stroke-width="0.8"/>
<rect x="183.80" y="708.80" width="12.10" height="8.60" fill="#31a354" stroke="#222" stroke-width="0.8"/>
<rect x="195.90" y="708.80" width="12.10" height="8.60" fill="#006837" stroke="#222" stroke-width="0.8"/>
<text transform="translate(111.20 726.10) scale(1.0607 1)" font-size="6.69" text-anchor="middle" fill="#222" stroke="#222" stroke-width="0.14" >0</text>
<text transform="translate(135.40 726.10) scale(1.0607 1)" font-size="6.69" text-anchor="middle" fill="#222" stroke="#222" stroke-width="0.14" >0.25</text>
<text transform="translate(159.60 726.10) scale(1.0607 1)" font-size="6.69" text-anchor="middle" fill="#222" stroke="#222" stroke-width="0.14" >0.5</text>
<text transform="translate(183.80 726.10) scale(1.0607 1)" font-size="6.69" text-anchor="middle" fill="#222" stroke="#222" stroke-width="0.14" >0.75</text>
<text transform="translate(208.00 726.10) scale(1.0607 1)" font-size="6.69" text-anchor="middle" fill="#222" stroke="#222" stroke-width="0.14" >1</text>
<rect x="255.80" y="708.80" width="12.15" height="8.60" fill="#d73027" stroke="#222" stroke-width="0.8"/>
<rect x="267.95" y="708.80" width="12.15" height="8.60" fill="#f46d43" stroke="#222" stroke-width="0.8"/>
<rect x="280.10" y="708.80" width="12.15" height="8.60" fill="#fdae61" stroke="#222" stroke-width="0.8"/>
<rect x="292.25" y="708.80" width="12.15" height="8.60" fill="#fee090" stroke="#222" stroke-width="0.8"/>
<rect x="304.40" y="708.80" width="12.15" height="8.60" fill="#e0f3f8" stroke="#222" stroke-width="0.8"/>
<rect x="316.55" y="708.80" width="12.15" height="8.60" fill="#abd9e9" stroke="#222" stroke-width="0.8"/>
<rect x="328.70" y="708.80" width="12.15" height="8.60" fill="#74add1" stroke="#222" stroke-width="0.8"/>
<rect x="340.85" y="708.80" width="12.15" height="8.60" fill="#4575b4" stroke="#222" stroke-width="0.8"/>
<text transform="translate(255.80 726.10) scale(1.0607 1)" font-size="6.69" text-anchor="middle" fill="#222" stroke="#222" stroke-width="0.14" >-4</text>
<text transform="translate(280.10 726.10) scale(1.0607 1)" font-size="6.69" text-anchor="middle" fill="#222" stroke="#222" stroke-width="0.14" >-2</text>
<text transform="translate(304.40 726.10) scale(1.0607 1)" font-size="6.69" text-anchor="middle" fill="#222" stroke="#222" stroke-width="0.14" >0</text>
<text transform="translate(328.70 726.10) scale(1.0607 1)" font-size="6.69" text-anchor="middle" fill="#222" stroke="#222" stroke-width="0.14" >2</text>
<text transform="translate(353.00 726.10) scale(1.0607 1)" font-size="6.69" text-anchor="middle" fill="#222" stroke="#222" stroke-width="0.14" >4</text>
<rect x="491.50" y="708.80" width="12.12" height="8.00" fill="#f0f0f0" stroke="#222" stroke-width="0.8"/>
<rect x="503.62" y="708.80" width="12.12" height="8.00" fill="#ffffcc" stroke="#222" stroke-width="0.8"/>
<rect x="515.74" y="708.80" width="12.12" height="8.00" fill="#edf8b1" stroke="#222" stroke-width="0.8"/>
<rect x="527.86" y="708.80" width="12.12" height="8.00" fill="#c7e9b4" stroke="#222" stroke-width="0.8"/>
<rect x="539.98" y="708.80" width="12.12" height="8.00" fill="#7fcdbb" stroke="#222" stroke-width="0.8"/>
<rect x="552.10" y="708.80" width="12.12" height="8.00" fill="#41b6c4" stroke="#222" stroke-width="0.8"/>
<rect x="564.22" y="708.80" width="12.12" height="8.00" fill="#1d91c0" stroke="#222" stroke-width="0.8"/>
<rect x="576.34" y="708.80" width="12.12" height="8.00" fill="#225ea8" stroke="#222" stroke-width="0.8"/>
<rect x="588.46" y="708.80" width="12.12" height="8.00" fill="#253494" stroke="#222" stroke-width="0.8"/>
<rect x="600.58" y="708.80" width="12.12" height="8.00" fill="#081d58" stroke="#222" stroke-width="0.8"/>
<text transform="translate(503.60 726.10) scale(1.0607 1)" font-size="5.56" text-anchor="middle" fill="#222" stroke="#222" stroke-width="0.14" >0</text>
<text transform="translate(515.63 726.10) scale(1.0607 1)" font-size="5.56" text-anchor="middle" fill="#222" stroke="#222" stroke-width="0.14" >50</text>
<text transform="translate(527.66 726.10) scale(1.0607 1)" font-size="5.56" text-anchor="middle" fill="#222" stroke="#222" stroke-width="0.14" >100</text>
<text transform="translate(539.69 726.10) scale(1.0607 1)" font-size="5.56" text-anchor="middle" fill="#222" stroke="#222" stroke-width="0.14" >150</text>
<text transform="translate(551.72 726.10) scale(1.0607 1)" font-size="5.56" text-anchor="middle" fill="#222" stroke="#222" stroke-width="0.14" >200</text>
<text transform="translate(563.75 726.10) scale(1.0607 1)" font-size="5.56" text-anchor="middle" fill="#222" stroke="#222" stroke-width="0.14" >250</text>
<text transform="translate(575.78 726.10) scale(1.0607 1)" font-size="5.56" text-anchor="middle" fill="#222" stroke="#222" stroke-width="0.14" >300</text>
<text transform="translate(587.81 726.10) scale(1.0607 1)" font-size="5.56" text-anchor="middle" fill="#222" stroke="#222" stroke-width="0.14" >350</text>
<text transform="translate(599.84 726.10) scale(1.0607 1)" font-size="5.56" text-anchor="middle" fill="#222" stroke="#222" stroke-width="0.14" >400</text>
<text transform="translate(621.60 725.60) scale(1.0607 1)" font-size="6.88" text-anchor="middle" fill="#666" >mm</text>
<rect x="116.3" y="770.5" width="570.20" height="87.80" fill="#fff" stroke="none"/>
<line x1="136.83" y1="771.5" x2="136.83" y2="858.3" stroke="#d4d4d4" stroke-width="1"/>
<line x1="155.06" y1="771.5" x2="155.06" y2="858.3" stroke="#d4d4d4" stroke-width="1"/>
<line x1="173.28" y1="771.5" x2="173.28" y2="858.3" stroke="#d4d4d4" stroke-width="1"/>
<line x1="191.51" y1="771.5" x2="191.51" y2="858.3" stroke="#d4d4d4" stroke-width="1"/>
<line x1="209.73" y1="771.5" x2="209.73" y2="858.3" stroke="#d4d4d4" stroke-width="1"/>
<line x1="227.96" y1="771.5" x2="227.96" y2="858.3" stroke="#d4d4d4" stroke-width="1"/>
<line x1="246.18" y1="771.5" x2="246.18" y2="858.3" stroke="#d4d4d4" stroke-width="1"/>
<line x1="264.41" y1="771.5" x2="264.41" y2="858.3" stroke="#d4d4d4" stroke-width="1"/>
<line x1="282.63" y1="771.5" x2="282.63" y2="858.3" stroke="#d4d4d4" stroke-width="1"/>
<line x1="300.86" y1="771.5" x2="300.86" y2="858.3" stroke="#d4d4d4" stroke-width="1"/>
<line x1="319.08" y1="771.5" x2="319.08" y2="858.3" stroke="#d4d4d4" stroke-width="1"/>
<line x1="337.31" y1="771.5" x2="337.31" y2="858.3" stroke="#d4d4d4" stroke-width="1"/>
<line x1="355.53" y1="771.5" x2="355.53" y2="858.3" stroke="#d4d4d4" stroke-width="1"/>
<line x1="373.75" y1="771.5" x2="373.75" y2="858.3" stroke="#d4d4d4" stroke-width="1"/>
<line x1="391.98" y1="771.5" x2="391.98" y2="858.3" stroke="#d4d4d4" stroke-width="1"/>
<line x1="410.21" y1="771.5" x2="410.21" y2="858.3" stroke="#d4d4d4" stroke-width="1"/>
<line x1="428.43" y1="771.5" x2="428.43" y2="858.3" stroke="#d4d4d4" stroke-width="1"/>
<line x1="446.66" y1="771.5" x2="446.66" y2="858.3" stroke="#d4d4d4" stroke-width="1"/>
<line x1="464.88" y1="771.5" x2="464.88" y2="858.3" stroke="#d4d4d4" stroke-width="1"/>
<line x1="483.11" y1="771.5" x2="483.11" y2="858.3" stroke="#d4d4d4" stroke-width="1"/>
<line x1="501.33" y1="771.5" x2="501.33" y2="858.3" stroke="#d4d4d4" stroke-width="1"/>
<line x1="519.56" y1="771.5" x2="519.56" y2="858.3" stroke="#d4d4d4" stroke-width="1"/>
<line x1="537.78" y1="771.5" x2="537.78" y2="858.3" stroke="#d4d4d4" stroke-width="1"/>
<line x1="556.00" y1="771.5" x2="556.00" y2="858.3" stroke="#d4d4d4" stroke-width="1"/>
<line x1="574.23" y1="771.5" x2="574.23" y2="858.3" stroke="#d4d4d4" stroke-width="1"/>
<line x1="592.46" y1="771.5" x2="592.46" y2="858.3" stroke="#d4d4d4" stroke-width="1"/>
<line x1="610.68" y1="771.5" x2="610.68" y2="858.3" stroke="#d4d4d4" stroke-width="1"/>
<line x1="628.91" y1="771.5" x2="628.91" y2="858.3" stroke="#d4d4d4" stroke-width="1"/>
<line x1="647.13" y1="771.5" x2="647.13" y2="858.3" stroke="#d4d4d4" stroke-width="1"/>
<line x1="665.36" y1="771.5" x2="665.36" y2="858.3" stroke="#d4d4d4" stroke-width="1"/>
<polyline points="136.83,840.67 155.06,848.50 173.28,842.33 191.51,824.67 209.73,831.33 227.96,841.00 246.18,849.83 264.41,829.83 282.63,809.83 300.86,831.33 319.08,830.67 337.31,833.17 355.53,843.50 373.75,836.33 391.98,852.33 410.21,841.83 428.43,847.67 446.66,852.67 464.88,845.83 483.11,813.17 501.33,843.00 519.56,847.17 537.78,847.67 556.00,814.83 574.23,817.67 592.46,819.67 610.68,816.33 628.91,843.83 647.13,852.17 665.36,823.50" fill="none" stroke="#b2df8a" stroke-width="1.45" stroke-linejoin="round"/>
<polyline points="136.83,818.00 155.06,853.83 173.28,852.67 191.51,852.17 209.73,851.50 227.96,840.17 246.18,847.67 264.41,847.33 282.63,849.00 300.86,849.33 319.08,831.33 337.31,833.50 355.53,818.00 373.75,807.33 391.98,801.50 410.21,778.83 428.43,804.33 446.66,848.83 464.88,836.83 483.11,851.83 501.33,841.83 519.56,851.33 537.78,849.33 556.00,816.50 574.23,850.17 592.46,848.17 610.68,834.67 628.91,840.50 647.13,828.50 665.36,839.67" fill="none" stroke="#33a02c" stroke-width="1.45" stroke-linejoin="round"/>
<polyline points="136.83,805.67 155.06,848.83 173.28,854.67 191.51,848.50 209.73,845.50 227.96,841.83 246.18,835.67 264.41,842.67 282.63,825.50 300.86,846.83 319.08,835.17 337.31,847.67 355.53,829.83 373.75,831.50 391.98,814.33 410.21,797.33 428.43,824.33 446.66,853.83 464.88,847.00 483.11,848.83 501.33,839.33 519.56,833.83 537.78,831.83 556.00,800.17 574.23,841.33 592.46,843.17 610.68,841.00 628.91,848.50 647.13,844.00 665.36,819.67" fill="none" stroke="#fb9a99" stroke-width="1.45" stroke-linejoin="round"/>
<polyline points="136.83,819.67 155.06,843.00 173.28,854.33 191.51,853.83 209.73,845.17 227.96,839.33 246.18,828.50 264.41,849.83 282.63,841.50 300.86,847.17 319.08,834.00 337.31,812.83 355.53,799.17 373.75,830.67 391.98,837.33 410.21,821.50 428.43,825.17 446.66,854.33 464.88,842.00 483.11,852.17 501.33,845.67 519.56,848.50 537.78,826.00 556.00,773.00 574.23,836.00 592.46,839.00 610.68,848.17 628.91,849.00 647.13,846.50 665.36,829.00" fill="none" stroke="#e31a1c" stroke-width="1.45" stroke-linejoin="round"/>
<polyline points="136.83,831.83 155.06,842.67 173.28,853.83 191.51,850.17 209.73,846.00 227.96,844.33 246.18,838.00 264.41,848.00 282.63,837.17 300.86,848.83 319.08,821.33 337.31,833.67 355.53,839.67 373.75,831.50 391.98,845.50 410.21,829.00 428.43,837.67 446.66,845.67 464.88,831.00 483.11,838.17 501.33,843.00 519.56,842.67 537.78,845.50 556.00,794.83 574.23,816.83 592.46,822.67 610.68,844.67 628.91,841.50 647.13,839.33 665.36,785.67" fill="none" stroke="#ff7f00" stroke-width="1.45" stroke-linejoin="round"/>
<rect x="116.3" y="770.5" width="570.20" height="87.80" fill="none" stroke="#333" stroke-width="1"/>
<line x1="136.83" y1="858.3" x2="136.83" y2="862.5999999999999" stroke="#333" stroke-width="0.9"/>
<text transform="translate(136.83 871.80) scale(1.0607 1)" font-size="6.69" text-anchor="middle" fill="#222" stroke="#222" stroke-width="0.14" >01-Sep</text>
<line x1="155.06" y1="858.3" x2="155.06" y2="862.5999999999999" stroke="#333" stroke-width="0.9"/>
<line x1="173.28" y1="858.3" x2="173.28" y2="862.5999999999999" stroke="#333" stroke-width="0.9"/>
<text transform="translate(173.28 871.80) scale(1.0607 1)" font-size="6.69" text-anchor="middle" fill="#222" stroke="#222" stroke-width="0.14" >03-Sep</text>
<line x1="191.51" y1="858.3" x2="191.51" y2="862.5999999999999" stroke="#333" stroke-width="0.9"/>
<line x1="209.73" y1="858.3" x2="209.73" y2="862.5999999999999" stroke="#333" stroke-width="0.9"/>
<text transform="translate(209.73 871.80) scale(1.0607 1)" font-size="6.69" text-anchor="middle" fill="#222" stroke="#222" stroke-width="0.14" >05-Sep</text>
<line x1="227.96" y1="858.3" x2="227.96" y2="862.5999999999999" stroke="#333" stroke-width="0.9"/>
<line x1="246.18" y1="858.3" x2="246.18" y2="862.5999999999999" stroke="#333" stroke-width="0.9"/>
<text transform="translate(246.18 871.80) scale(1.0607 1)" font-size="6.69" text-anchor="middle" fill="#222" stroke="#222" stroke-width="0.14" >07-Sep</text>
<line x1="264.41" y1="858.3" x2="264.41" y2="862.5999999999999" stroke="#333" stroke-width="0.9"/>
<line x1="282.63" y1="858.3" x2="282.63" y2="862.5999999999999" stroke="#333" stroke-width="0.9"/>
<text transform="translate(282.63 871.80) scale(1.0607 1)" font-size="6.69" text-anchor="middle" fill="#222" stroke="#222" stroke-width="0.14" >09-Sep</text>
<line x1="300.86" y1="858.3" x2="300.86" y2="862.5999999999999" stroke="#333" stroke-width="0.9"/>
<line x1="319.08" y1="858.3" x2="319.08" y2="862.5999999999999" stroke="#333" stroke-width="0.9"/>
<text transform="translate(319.08 871.80) scale(1.0607 1)" font-size="6.69" text-anchor="middle" fill="#222" stroke="#222" stroke-width="0.14" >11-Sep</text>
<line x1="337.31" y1="858.3" x2="337.31" y2="862.5999999999999" stroke="#333" stroke-width="0.9"/>
<line x1="355.53" y1="858.3" x2="355.53" y2="862.5999999999999" stroke="#333" stroke-width="0.9"/>
<text transform="translate(355.53 871.80) scale(1.0607 1)" font-size="6.69" text-anchor="middle" fill="#222" stroke="#222" stroke-width="0.14" >13-Sep</text>
<line x1="373.75" y1="858.3" x2="373.75" y2="862.5999999999999" stroke="#333" stroke-width="0.9"/>
<line x1="391.98" y1="858.3" x2="391.98" y2="862.5999999999999" stroke="#333" stroke-width="0.9"/>
<text transform="translate(391.98 871.80) scale(1.0607 1)" font-size="6.69" text-anchor="middle" fill="#222" stroke="#222" stroke-width="0.14" >15-Sep</text>
<line x1="410.21" y1="858.3" x2="410.21" y2="862.5999999999999" stroke="#333" stroke-width="0.9"/>
<line x1="428.43" y1="858.3" x2="428.43" y2="862.5999999999999" stroke="#333" stroke-width="0.9"/>
<text transform="translate(428.43 871.80) scale(1.0607 1)" font-size="6.69" text-anchor="middle" fill="#222" stroke="#222" stroke-width="0.14" >17-Sep</text>
<line x1="446.66" y1="858.3" x2="446.66" y2="862.5999999999999" stroke="#333" stroke-width="0.9"/>
<line x1="464.88" y1="858.3" x2="464.88" y2="862.5999999999999" stroke="#333" stroke-width="0.9"/>
<text transform="translate(464.88 871.80) scale(1.0607 1)" font-size="6.69" text-anchor="middle" fill="#222" stroke="#222" stroke-width="0.14" >19-Sep</text>
<line x1="483.11" y1="858.3" x2="483.11" y2="862.5999999999999" stroke="#333" stroke-width="0.9"/>
<line x1="501.33" y1="858.3" x2="501.33" y2="862.5999999999999" stroke="#333" stroke-width="0.9"/>
<text transform="translate(501.33 871.80) scale(1.0607 1)" font-size="6.69" text-anchor="middle" fill="#222" stroke="#222" stroke-width="0.14" >21-Sep</text>
<line x1="519.56" y1="858.3" x2="519.56" y2="862.5999999999999" stroke="#333" stroke-width="0.9"/>
<line x1="537.78" y1="858.3" x2="537.78" y2="862.5999999999999" stroke="#333" stroke-width="0.9"/>
<text transform="translate(537.78 871.80) scale(1.0607 1)" font-size="6.69" text-anchor="middle" fill="#222" stroke="#222" stroke-width="0.14" >23-Sep</text>
<line x1="556.00" y1="858.3" x2="556.00" y2="862.5999999999999" stroke="#333" stroke-width="0.9"/>
<line x1="574.23" y1="858.3" x2="574.23" y2="862.5999999999999" stroke="#333" stroke-width="0.9"/>
<text transform="translate(574.23 871.80) scale(1.0607 1)" font-size="6.69" text-anchor="middle" fill="#222" stroke="#222" stroke-width="0.14" >25-Sep</text>
<line x1="592.46" y1="858.3" x2="592.46" y2="862.5999999999999" stroke="#333" stroke-width="0.9"/>
<line x1="610.68" y1="858.3" x2="610.68" y2="862.5999999999999" stroke="#333" stroke-width="0.9"/>
<text transform="translate(610.68 871.80) scale(1.0607 1)" font-size="6.69" text-anchor="middle" fill="#222" stroke="#222" stroke-width="0.14" >27-Sep</text>
<line x1="628.91" y1="858.3" x2="628.91" y2="862.5999999999999" stroke="#333" stroke-width="0.9"/>
<line x1="647.13" y1="858.3" x2="647.13" y2="862.5999999999999" stroke="#333" stroke-width="0.9"/>
<text transform="translate(647.13 871.80) scale(1.0607 1)" font-size="6.69" text-anchor="middle" fill="#222" stroke="#222" stroke-width="0.14" >29-Sep</text>
<line x1="665.36" y1="858.3" x2="665.36" y2="862.5999999999999" stroke="#333" stroke-width="0.9"/>
<line x1="112.0" y1="855.0" x2="116.3" y2="855.0" stroke="#333" stroke-width="0.9"/>
<text transform="translate(107.6,855.0) scale(1.0607 1) rotate(-90)" font-size="7.1" text-anchor="middle" fill="#222">0</text>
<line x1="112.0" y1="814.6" x2="116.3" y2="814.6" stroke="#333" stroke-width="0.9"/>
<text transform="translate(107.6,814.6) scale(1.0607 1) rotate(-90)" font-size="7.1" text-anchor="middle" fill="#222">7</text>
<line x1="112.0" y1="774.3" x2="116.3" y2="774.3" stroke="#333" stroke-width="0.9"/>
<text transform="translate(107.6,774.3) scale(1.0607 1) rotate(-90)" font-size="7.1" text-anchor="middle" fill="#222">14</text>
<text transform="translate(97.8,814.7) scale(1.0607 1) rotate(-90)" font-size="6.9" font-style="italic" text-anchor="middle" fill="#222">% of monthly rainfall total</text>
<line x1="176.7" y1="751.3" x2="183.29999999999998" y2="751.3" stroke="#b2df8a" stroke-width="1.8"/>
<text transform="translate(191.70 754.00) scale(1.0607 1)" font-size="7.35" fill="#222" stroke="#222" stroke-width="0.14" >Bukidnon</text>
<line x1="272.0" y1="751.3" x2="278.6" y2="751.3" stroke="#33a02c" stroke-width="1.8"/>
<text transform="translate(287.10 754.00) scale(1.0607 1)" font-size="7.35" fill="#222" stroke="#222" stroke-width="0.14" >Camiguin</text>
<line x1="368.3" y1="751.3" x2="374.90000000000003" y2="751.3" stroke="#fb9a99" stroke-width="1.8"/>
<text transform="translate(383.00 754.00) scale(1.0607 1)" font-size="7.35" fill="#222" stroke="#222" stroke-width="0.14" >Lanao del Norte</text>
<line x1="464.0" y1="751.3" x2="470.6" y2="751.3" stroke="#e31a1c" stroke-width="1.8"/>
<text transform="translate(477.80 754.00) scale(1.0607 1)" font-size="7.35" fill="#222" stroke="#222" stroke-width="0.14" >Misamis Occidental</text>
<line x1="559.0" y1="751.3" x2="565.6" y2="751.3" stroke="#ff7f00" stroke-width="1.8"/>
<text transform="translate(573.60 754.00) scale(1.0607 1)" font-size="7.35" fill="#222" stroke="#222" stroke-width="0.14" >Misamis Oriental</text>
</svg>
<div id="sum" style="position:absolute;left:397.9px;top:147.1px;width:274.2px;height:347.8px;border:1.35px solid #585858;box-sizing:border-box;"></div>
<div id="sumtxt" style="position:absolute;left:409.8px;top:154.4px;width:236.17px;font-size:13.29px;line-height:15.39px;-webkit-text-stroke:0.18px #000;transform:scaleX(1.0607);transform-origin:0 0;color:#000;"><p><span class="ln">Lanao del Norte was significantly </span><span class="ln">affected by excessive rainfall, with both </span><span class="ln" style="word-spacing:-0.24px">crops in all stages likely damaged. Parts </span><span class="ln">of Bukidnon and Misamis Occidental </span><span class="ln">were also recipients of excess rainfall, </span><span class="ln">which may have negatively affected the </span><span class="ln">growth of corn crops in the prevailing </span><span class="ln" style="word-spacing:-0.24px">Vegetative stage. Meanwhile, rice crops, </span><span class="ln">particularly those in the prevailing </span><span class="ln">Reproductive stage, are likely thriving in </span><span class="ln">Bukidnon, Misamis Occidental and </span><span class="ln">Misamis Oriental. Furthermore, portions </span><span class="ln">of all three provinces (including Lanao </span><span class="ln" style="word-spacing:-0.66px">del Norte) have had notably large rainfall </span><span class="ln last">exceedances in the past 3 months. </span></p><p class="gap">&nbsp;</p><p><span class="ln">Except for Lanao del Norte, most parts </span><span class="ln">of the Region were likely unaffected by </span><span class="ln">extreme rainfall events and by the </span><span class="ln">accumulation of rainfall from </span><span class="ln last">consecutive rainy days. </span></p></div>
</body></html>
